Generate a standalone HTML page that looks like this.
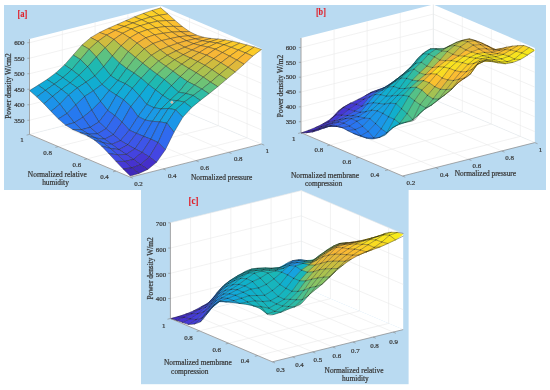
<!DOCTYPE html>
<html><head><meta charset="utf-8"><title>Power density surfaces</title><style>html,body{margin:0;padding:0;background:#fff;width:550px;height:390px;overflow:hidden;}svg{display:block;}text{stroke:#3a3a3a;stroke-width:0.22px;}text.tg{stroke:#e0202a;stroke-width:0.1px;}</style></head><body>
<svg width="550" height="390" viewBox="0 0 550 390" font-family="'Liberation Serif', 'Times New Roman', serif" fill="#383838" stroke-width="0">
<rect x="4" y="5" width="542" height="185" fill="#b9daf1"/>
<rect x="141" y="189" width="267.6" height="195.2" fill="#b9daf1"/>
<polygon points="29.50,134.40 160.70,101.20 160.70,5.80 29.50,39.00" fill="#ffffff"/>
<polygon points="160.70,101.20 261.50,144.00 261.50,48.60 160.70,5.80" fill="#ffffff"/>
<polygon points="29.50,134.40 130.30,177.20 261.50,144.00 160.70,101.20" fill="#ffffff"/>
<line x1="130.30" y1="177.20" x2="29.50" y2="134.40" stroke="#e9e9e9" stroke-width="0.6"/>
<line x1="29.50" y1="134.40" x2="29.50" y2="39.00" stroke="#e9e9e9" stroke-width="0.6"/>
<line x1="163.10" y1="168.90" x2="62.30" y2="126.10" stroke="#e9e9e9" stroke-width="0.6"/>
<line x1="62.30" y1="126.10" x2="62.30" y2="30.70" stroke="#e9e9e9" stroke-width="0.6"/>
<line x1="195.90" y1="160.60" x2="95.10" y2="117.80" stroke="#e9e9e9" stroke-width="0.6"/>
<line x1="95.10" y1="117.80" x2="95.10" y2="22.40" stroke="#e9e9e9" stroke-width="0.6"/>
<line x1="228.70" y1="152.30" x2="127.90" y2="109.50" stroke="#e9e9e9" stroke-width="0.6"/>
<line x1="127.90" y1="109.50" x2="127.90" y2="14.10" stroke="#e9e9e9" stroke-width="0.6"/>
<line x1="261.50" y1="144.00" x2="160.70" y2="101.20" stroke="#e9e9e9" stroke-width="0.6"/>
<line x1="160.70" y1="101.20" x2="160.70" y2="5.80" stroke="#e9e9e9" stroke-width="0.6"/>
<line x1="115.90" y1="171.09" x2="247.10" y2="137.89" stroke="#e9e9e9" stroke-width="0.6"/>
<line x1="247.10" y1="137.89" x2="247.10" y2="42.49" stroke="#e9e9e9" stroke-width="0.6"/>
<line x1="87.10" y1="158.86" x2="218.30" y2="125.66" stroke="#e9e9e9" stroke-width="0.6"/>
<line x1="218.30" y1="125.66" x2="218.30" y2="30.26" stroke="#e9e9e9" stroke-width="0.6"/>
<line x1="58.30" y1="146.63" x2="189.50" y2="113.43" stroke="#e9e9e9" stroke-width="0.6"/>
<line x1="189.50" y1="113.43" x2="189.50" y2="18.03" stroke="#e9e9e9" stroke-width="0.6"/>
<line x1="29.50" y1="134.40" x2="160.70" y2="101.20" stroke="#e9e9e9" stroke-width="0.6"/>
<line x1="160.70" y1="101.20" x2="160.70" y2="5.80" stroke="#e9e9e9" stroke-width="0.6"/>
<line x1="29.50" y1="120.28" x2="160.70" y2="87.08" stroke="#e9e9e9" stroke-width="0.6"/>
<line x1="160.70" y1="87.08" x2="261.50" y2="129.88" stroke="#e9e9e9" stroke-width="0.6"/>
<line x1="29.50" y1="104.77" x2="160.70" y2="71.57" stroke="#e9e9e9" stroke-width="0.6"/>
<line x1="160.70" y1="71.57" x2="261.50" y2="114.37" stroke="#e9e9e9" stroke-width="0.6"/>
<line x1="29.50" y1="89.26" x2="160.70" y2="56.06" stroke="#e9e9e9" stroke-width="0.6"/>
<line x1="160.70" y1="56.06" x2="261.50" y2="98.86" stroke="#e9e9e9" stroke-width="0.6"/>
<line x1="29.50" y1="73.75" x2="160.70" y2="40.55" stroke="#e9e9e9" stroke-width="0.6"/>
<line x1="160.70" y1="40.55" x2="261.50" y2="83.35" stroke="#e9e9e9" stroke-width="0.6"/>
<line x1="29.50" y1="58.24" x2="160.70" y2="25.04" stroke="#e9e9e9" stroke-width="0.6"/>
<line x1="160.70" y1="25.04" x2="261.50" y2="67.84" stroke="#e9e9e9" stroke-width="0.6"/>
<line x1="29.50" y1="42.72" x2="160.70" y2="9.52" stroke="#e9e9e9" stroke-width="0.6"/>
<line x1="160.70" y1="9.52" x2="261.50" y2="52.32" stroke="#e9e9e9" stroke-width="0.6"/>
<polygon points="159.15,15.24 167.90,13.97 160.70,7.85 151.95,10.38" fill="#fbcf28" stroke="#1a1a1a" stroke-width="0.45" stroke-opacity="0.8" stroke-linejoin="round"/>
<polygon points="150.41,17.07 159.15,15.24 151.95,10.38 143.21,13.43" fill="#fad027" stroke="#1a1a1a" stroke-width="0.45" stroke-opacity="0.8" stroke-linejoin="round"/>
<polygon points="166.35,20.59 175.10,20.44 167.90,13.97 159.15,15.24" fill="#fcc72b" stroke="#1a1a1a" stroke-width="0.45" stroke-opacity="0.8" stroke-linejoin="round"/>
<polygon points="141.66,19.81 150.41,17.07 143.21,13.43 134.46,16.92" fill="#fbcf28" stroke="#1a1a1a" stroke-width="0.45" stroke-opacity="0.8" stroke-linejoin="round"/>
<polygon points="157.61,21.23 166.35,20.59 159.15,15.24 150.41,17.07" fill="#fbcc29" stroke="#1a1a1a" stroke-width="0.45" stroke-opacity="0.8" stroke-linejoin="round"/>
<polygon points="173.55,26.37 182.30,26.52 175.10,20.44 166.35,20.59" fill="#fbbf30" stroke="#1a1a1a" stroke-width="0.45" stroke-opacity="0.8" stroke-linejoin="round"/>
<polygon points="132.91,22.99 141.66,19.81 134.46,16.92 125.71,20.65" fill="#fbcb29" stroke="#1a1a1a" stroke-width="0.45" stroke-opacity="0.8" stroke-linejoin="round"/>
<polygon points="148.86,23.21 157.61,21.23 150.41,17.07 141.66,19.81" fill="#fbcd29" stroke="#1a1a1a" stroke-width="0.45" stroke-opacity="0.8" stroke-linejoin="round"/>
<polygon points="164.81,26.55 173.55,26.37 166.35,20.59 157.61,21.23" fill="#fcc52c" stroke="#1a1a1a" stroke-width="0.45" stroke-opacity="0.8" stroke-linejoin="round"/>
<polygon points="124.17,26.45 132.91,22.99 125.71,20.65 116.97,24.49" fill="#fcc72b" stroke="#1a1a1a" stroke-width="0.45" stroke-opacity="0.8" stroke-linejoin="round"/>
<polygon points="180.75,31.72 189.50,31.58 182.30,26.52 173.55,26.37" fill="#f9b934" stroke="#1a1a1a" stroke-width="0.45" stroke-opacity="0.8" stroke-linejoin="round"/>
<polygon points="140.11,25.78 148.86,23.21 141.66,19.81 132.91,22.99" fill="#fbcc29" stroke="#1a1a1a" stroke-width="0.45" stroke-opacity="0.8" stroke-linejoin="round"/>
<polygon points="156.06,27.81 164.81,26.55 157.61,21.23 148.86,23.21" fill="#fcc82b" stroke="#1a1a1a" stroke-width="0.45" stroke-opacity="0.8" stroke-linejoin="round"/>
<polygon points="115.42,30.34 124.17,26.45 116.97,24.49 108.22,28.34" fill="#fbc22e" stroke="#1a1a1a" stroke-width="0.45" stroke-opacity="0.8" stroke-linejoin="round"/>
<polygon points="172.01,32.05 180.75,31.72 173.55,26.37 164.81,26.55" fill="#fabe30" stroke="#1a1a1a" stroke-width="0.45" stroke-opacity="0.8" stroke-linejoin="round"/>
<polygon points="131.37,28.96 140.11,25.78 132.91,22.99 124.17,26.45" fill="#fbc92a" stroke="#1a1a1a" stroke-width="0.45" stroke-opacity="0.8" stroke-linejoin="round"/>
<polygon points="187.95,35.84 196.70,35.20 189.50,31.58 180.75,31.72" fill="#f7b636" stroke="#1a1a1a" stroke-width="0.45" stroke-opacity="0.8" stroke-linejoin="round"/>
<polygon points="147.31,29.75 156.06,27.81 148.86,23.21 140.11,25.78" fill="#fbc92a" stroke="#1a1a1a" stroke-width="0.45" stroke-opacity="0.8" stroke-linejoin="round"/>
<polygon points="106.67,35.08 115.42,30.34 108.22,28.34 99.47,32.44" fill="#f9bb33" stroke="#1a1a1a" stroke-width="0.45" stroke-opacity="0.8" stroke-linejoin="round"/>
<polygon points="163.26,33.28 172.01,32.05 164.81,26.55 156.06,27.81" fill="#fbc12e" stroke="#1a1a1a" stroke-width="0.45" stroke-opacity="0.8" stroke-linejoin="round"/>
<polygon points="122.62,33.31 131.37,28.96 124.17,26.45 115.42,30.34" fill="#fbc22d" stroke="#1a1a1a" stroke-width="0.45" stroke-opacity="0.8" stroke-linejoin="round"/>
<polygon points="179.21,36.72 187.95,35.84 180.75,31.72 172.01,32.05" fill="#f9b934" stroke="#1a1a1a" stroke-width="0.45" stroke-opacity="0.8" stroke-linejoin="round"/>
<polygon points="138.57,32.80 147.31,29.75 140.11,25.78 131.37,28.96" fill="#fcc62b" stroke="#1a1a1a" stroke-width="0.45" stroke-opacity="0.8" stroke-linejoin="round"/>
<polygon points="195.15,38.87 203.90,37.37 196.70,35.20 187.95,35.84" fill="#f8b636" stroke="#1a1a1a" stroke-width="0.45" stroke-opacity="0.8" stroke-linejoin="round"/>
<polygon points="97.93,41.27 106.67,35.08 99.47,32.44 90.73,37.63" fill="#eeb738" stroke="#1a1a1a" stroke-width="0.45" stroke-opacity="0.8" stroke-linejoin="round"/>
<polygon points="154.51,34.83 163.26,33.28 156.06,27.81 147.31,29.75" fill="#fcc22d" stroke="#1a1a1a" stroke-width="0.45" stroke-opacity="0.8" stroke-linejoin="round"/>
<polygon points="113.87,39.48 122.62,33.31 115.42,30.34 106.67,35.08" fill="#f8b735" stroke="#1a1a1a" stroke-width="0.45" stroke-opacity="0.8" stroke-linejoin="round"/>
<polygon points="170.46,38.52 179.21,36.72 172.01,32.05 163.26,33.28" fill="#f9bb33" stroke="#1a1a1a" stroke-width="0.45" stroke-opacity="0.8" stroke-linejoin="round"/>
<polygon points="129.82,37.85 138.57,32.80 131.37,28.96 122.62,33.31" fill="#fabe30" stroke="#1a1a1a" stroke-width="0.45" stroke-opacity="0.8" stroke-linejoin="round"/>
<polygon points="186.41,40.71 195.15,38.87 187.95,35.84 179.21,36.72" fill="#f8b735" stroke="#1a1a1a" stroke-width="0.45" stroke-opacity="0.8" stroke-linejoin="round"/>
<polygon points="89.18,49.24 97.93,41.27 90.73,37.63 81.98,45.03" fill="#c0bf43" stroke="#1a1a1a" stroke-width="0.45" stroke-opacity="0.8" stroke-linejoin="round"/>
<polygon points="145.77,37.77 154.51,34.83 147.31,29.75 138.57,32.80" fill="#fbc02f" stroke="#1a1a1a" stroke-width="0.45" stroke-opacity="0.8" stroke-linejoin="round"/>
<polygon points="202.35,40.84 211.10,38.43 203.90,37.37 195.15,38.87" fill="#f9b934" stroke="#1a1a1a" stroke-width="0.45" stroke-opacity="0.8" stroke-linejoin="round"/>
<polygon points="105.13,47.76 113.87,39.48 106.67,35.08 97.93,41.27" fill="#d2bc3e" stroke="#1a1a1a" stroke-width="0.45" stroke-opacity="0.8" stroke-linejoin="round"/>
<polygon points="161.71,40.58 170.46,38.52 163.26,33.28 154.51,34.83" fill="#f9bb32" stroke="#1a1a1a" stroke-width="0.45" stroke-opacity="0.8" stroke-linejoin="round"/>
<polygon points="121.07,45.77 129.82,37.85 122.62,33.31 113.87,39.48" fill="#eab739" stroke="#1a1a1a" stroke-width="0.45" stroke-opacity="0.8" stroke-linejoin="round"/>
<polygon points="177.66,43.31 186.41,40.71 179.21,36.72 170.46,38.52" fill="#f7b636" stroke="#1a1a1a" stroke-width="0.45" stroke-opacity="0.8" stroke-linejoin="round"/>
<polygon points="80.43,59.51 89.18,49.24 81.98,45.03 73.23,55.00" fill="#81c46a" stroke="#1a1a1a" stroke-width="0.45" stroke-opacity="0.8" stroke-linejoin="round"/>
<polygon points="137.02,43.07 145.77,37.77 138.57,32.80 129.82,37.85" fill="#f9b835" stroke="#1a1a1a" stroke-width="0.45" stroke-opacity="0.8" stroke-linejoin="round"/>
<polygon points="193.61,43.76 202.35,40.84 195.15,38.87 186.41,40.71" fill="#f8b735" stroke="#1a1a1a" stroke-width="0.45" stroke-opacity="0.8" stroke-linejoin="round"/>
<polygon points="96.38,57.01 105.13,47.76 97.93,41.27 89.18,49.24" fill="#a2c254" stroke="#1a1a1a" stroke-width="0.45" stroke-opacity="0.8" stroke-linejoin="round"/>
<polygon points="152.97,43.55 161.71,40.58 154.51,34.83 145.77,37.77" fill="#f9b934" stroke="#1a1a1a" stroke-width="0.45" stroke-opacity="0.8" stroke-linejoin="round"/>
<polygon points="209.55,41.98 218.30,39.03 211.10,38.43 202.35,40.84" fill="#fabe30" stroke="#1a1a1a" stroke-width="0.45" stroke-opacity="0.8" stroke-linejoin="round"/>
<polygon points="112.33,55.98 121.07,45.77 113.87,39.48 105.13,47.76" fill="#afc14c" stroke="#1a1a1a" stroke-width="0.45" stroke-opacity="0.8" stroke-linejoin="round"/>
<polygon points="168.91,46.31 177.66,43.31 170.46,38.52 161.71,40.58" fill="#f4b637" stroke="#1a1a1a" stroke-width="0.45" stroke-opacity="0.8" stroke-linejoin="round"/>
<polygon points="71.69,69.70 80.43,59.51 73.23,55.00 64.49,64.92" fill="#2dbca5" stroke="#1a1a1a" stroke-width="0.45" stroke-opacity="0.8" stroke-linejoin="round"/>
<polygon points="128.27,51.59 137.02,43.07 129.82,37.85 121.07,45.77" fill="#d3bb3d" stroke="#1a1a1a" stroke-width="0.45" stroke-opacity="0.8" stroke-linejoin="round"/>
<polygon points="184.86,47.22 193.61,43.76 186.41,40.71 177.66,43.31" fill="#f4b637" stroke="#1a1a1a" stroke-width="0.45" stroke-opacity="0.8" stroke-linejoin="round"/>
<polygon points="87.63,66.65 96.38,57.01 89.18,49.24 80.43,59.51" fill="#53c189" stroke="#1a1a1a" stroke-width="0.45" stroke-opacity="0.8" stroke-linejoin="round"/>
<polygon points="144.22,48.89 152.97,43.55 145.77,37.77 137.02,43.07" fill="#efb738" stroke="#1a1a1a" stroke-width="0.45" stroke-opacity="0.8" stroke-linejoin="round"/>
<polygon points="200.81,45.59 209.55,41.98 202.35,40.84 193.61,43.76" fill="#f9ba33" stroke="#1a1a1a" stroke-width="0.45" stroke-opacity="0.8" stroke-linejoin="round"/>
<polygon points="103.58,66.69 112.33,55.98 105.13,47.76 96.38,57.01" fill="#5cc282" stroke="#1a1a1a" stroke-width="0.45" stroke-opacity="0.8" stroke-linejoin="round"/>
<polygon points="160.17,49.81 168.91,46.31 161.71,40.58 152.97,43.55" fill="#efb738" stroke="#1a1a1a" stroke-width="0.45" stroke-opacity="0.8" stroke-linejoin="round"/>
<polygon points="62.94,77.65 71.69,69.70 64.49,64.92 55.74,72.99" fill="#16b5be" stroke="#1a1a1a" stroke-width="0.45" stroke-opacity="0.8" stroke-linejoin="round"/>
<polygon points="216.75,43.03 225.50,39.88 218.30,39.03 209.55,41.98" fill="#fcc42c" stroke="#1a1a1a" stroke-width="0.45" stroke-opacity="0.8" stroke-linejoin="round"/>
<polygon points="119.53,63.09 128.27,51.59 121.07,45.77 112.33,55.98" fill="#8dc362" stroke="#1a1a1a" stroke-width="0.45" stroke-opacity="0.8" stroke-linejoin="round"/>
<polygon points="176.11,50.95 184.86,47.22 177.66,43.31 168.91,46.31" fill="#edb738" stroke="#1a1a1a" stroke-width="0.45" stroke-opacity="0.8" stroke-linejoin="round"/>
<polygon points="78.89,75.28 87.63,66.65 80.43,59.51 71.69,69.70" fill="#1eb8b2" stroke="#1a1a1a" stroke-width="0.45" stroke-opacity="0.8" stroke-linejoin="round"/>
<polygon points="135.47,57.33 144.22,48.89 137.02,43.07 128.27,51.59" fill="#bebf44" stroke="#1a1a1a" stroke-width="0.45" stroke-opacity="0.8" stroke-linejoin="round"/>
<polygon points="192.06,50.06 200.81,45.59 193.61,43.76 184.86,47.22" fill="#f5b637" stroke="#1a1a1a" stroke-width="0.45" stroke-opacity="0.8" stroke-linejoin="round"/>
<polygon points="94.83,75.98 103.58,66.69 96.38,57.01 87.63,66.65" fill="#1fb9b1" stroke="#1a1a1a" stroke-width="0.45" stroke-opacity="0.8" stroke-linejoin="round"/>
<polygon points="151.42,55.32 160.17,49.81 152.97,43.55 144.22,48.89" fill="#d4bb3d" stroke="#1a1a1a" stroke-width="0.45" stroke-opacity="0.8" stroke-linejoin="round"/>
<polygon points="54.19,84.19 62.94,77.65 55.74,72.99 46.99,79.49" fill="#11b0cc" stroke="#1a1a1a" stroke-width="0.45" stroke-opacity="0.8" stroke-linejoin="round"/>
<polygon points="208.01,47.10 216.75,43.03 209.55,41.98 200.81,45.59" fill="#fabf30" stroke="#1a1a1a" stroke-width="0.45" stroke-opacity="0.8" stroke-linejoin="round"/>
<polygon points="110.78,75.72 119.53,63.09 112.33,55.98 103.58,66.69" fill="#26baac" stroke="#1a1a1a" stroke-width="0.45" stroke-opacity="0.8" stroke-linejoin="round"/>
<polygon points="167.37,55.23 176.11,50.95 168.91,46.31 160.17,49.81" fill="#ddb93b" stroke="#1a1a1a" stroke-width="0.45" stroke-opacity="0.8" stroke-linejoin="round"/>
<polygon points="70.14,82.85 78.89,75.28 71.69,69.70 62.94,77.65" fill="#12b3c5" stroke="#1a1a1a" stroke-width="0.45" stroke-opacity="0.8" stroke-linejoin="round"/>
<polygon points="223.95,44.75 232.70,41.28 225.50,39.88 216.75,43.03" fill="#fbc82a" stroke="#1a1a1a" stroke-width="0.45" stroke-opacity="0.8" stroke-linejoin="round"/>
<polygon points="126.73,68.51 135.47,57.33 128.27,51.59 119.53,63.09" fill="#74c373" stroke="#1a1a1a" stroke-width="0.45" stroke-opacity="0.8" stroke-linejoin="round"/>
<polygon points="183.31,54.73 192.06,50.06 184.86,47.22 176.11,50.95" fill="#e8b839" stroke="#1a1a1a" stroke-width="0.45" stroke-opacity="0.8" stroke-linejoin="round"/>
<polygon points="86.09,82.17 94.83,75.98 87.63,66.65 78.89,75.28" fill="#15b4c0" stroke="#1a1a1a" stroke-width="0.45" stroke-opacity="0.8" stroke-linejoin="round"/>
<polygon points="142.67,63.19 151.42,55.32 144.22,48.89 135.47,57.33" fill="#adc14d" stroke="#1a1a1a" stroke-width="0.45" stroke-opacity="0.8" stroke-linejoin="round"/>
<polygon points="45.45,90.42 54.19,84.19 46.99,79.49 38.25,85.11" fill="#12abd7" stroke="#1a1a1a" stroke-width="0.45" stroke-opacity="0.8" stroke-linejoin="round"/>
<polygon points="199.26,52.53 208.01,47.10 200.81,45.59 192.06,50.06" fill="#f7b636" stroke="#1a1a1a" stroke-width="0.45" stroke-opacity="0.8" stroke-linejoin="round"/>
<polygon points="102.03,84.32 110.78,75.72 103.58,66.69 94.83,75.98" fill="#12b3c5" stroke="#1a1a1a" stroke-width="0.45" stroke-opacity="0.8" stroke-linejoin="round"/>
<polygon points="158.62,61.06 167.37,55.23 160.17,49.81 151.42,55.32" fill="#bfbf44" stroke="#1a1a1a" stroke-width="0.45" stroke-opacity="0.8" stroke-linejoin="round"/>
<polygon points="61.39,89.41 70.14,82.85 62.94,77.65 54.19,84.19" fill="#11add2" stroke="#1a1a1a" stroke-width="0.45" stroke-opacity="0.8" stroke-linejoin="round"/>
<polygon points="215.21,49.16 223.95,44.75 216.75,43.03 208.01,47.10" fill="#fbc12e" stroke="#1a1a1a" stroke-width="0.45" stroke-opacity="0.8" stroke-linejoin="round"/>
<polygon points="117.98,80.51 126.73,68.51 119.53,63.09 110.78,75.72" fill="#1cb8b4" stroke="#1a1a1a" stroke-width="0.45" stroke-opacity="0.8" stroke-linejoin="round"/>
<polygon points="174.57,59.79 183.31,54.73 176.11,50.95 167.37,55.23" fill="#cfbc3e" stroke="#1a1a1a" stroke-width="0.45" stroke-opacity="0.8" stroke-linejoin="round"/>
<polygon points="77.34,87.88 86.09,82.17 78.89,75.28 70.14,82.85" fill="#10b0cb" stroke="#1a1a1a" stroke-width="0.45" stroke-opacity="0.8" stroke-linejoin="round"/>
<polygon points="231.15,47.35 239.90,43.09 232.70,41.28 223.95,44.75" fill="#fbca2a" stroke="#1a1a1a" stroke-width="0.45" stroke-opacity="0.8" stroke-linejoin="round"/>
<polygon points="133.93,72.99 142.67,63.19 135.47,57.33 126.73,68.51" fill="#64c27d" stroke="#1a1a1a" stroke-width="0.45" stroke-opacity="0.8" stroke-linejoin="round"/>
<polygon points="36.70,96.83 45.45,90.42 38.25,85.11 29.50,90.61" fill="#15a3df" stroke="#1a1a1a" stroke-width="0.45" stroke-opacity="0.8" stroke-linejoin="round"/>
<polygon points="190.51,58.14 199.26,52.53 192.06,50.06 183.31,54.73" fill="#e6b83a" stroke="#1a1a1a" stroke-width="0.45" stroke-opacity="0.8" stroke-linejoin="round"/>
<polygon points="93.29,90.83 102.03,84.32 94.83,75.98 86.09,82.17" fill="#11add1" stroke="#1a1a1a" stroke-width="0.45" stroke-opacity="0.8" stroke-linejoin="round"/>
<polygon points="149.87,68.86 158.62,61.06 151.42,55.32 142.67,63.19" fill="#99c35a" stroke="#1a1a1a" stroke-width="0.45" stroke-opacity="0.8" stroke-linejoin="round"/>
<polygon points="52.65,96.39 61.39,89.41 54.19,84.19 45.45,90.42" fill="#14a5dd" stroke="#1a1a1a" stroke-width="0.45" stroke-opacity="0.8" stroke-linejoin="round"/>
<polygon points="206.46,55.18 215.21,49.16 208.01,47.10 199.26,52.53" fill="#f8b736" stroke="#1a1a1a" stroke-width="0.45" stroke-opacity="0.8" stroke-linejoin="round"/>
<polygon points="109.23,90.51 117.98,80.51 110.78,75.72 102.03,84.32" fill="#11afce" stroke="#1a1a1a" stroke-width="0.45" stroke-opacity="0.8" stroke-linejoin="round"/>
<polygon points="165.82,66.11 174.57,59.79 167.37,55.23 158.62,61.06" fill="#b3c14a" stroke="#1a1a1a" stroke-width="0.45" stroke-opacity="0.8" stroke-linejoin="round"/>
<polygon points="68.59,94.99 77.34,87.88 70.14,82.85 61.39,89.41" fill="#12aad8" stroke="#1a1a1a" stroke-width="0.45" stroke-opacity="0.8" stroke-linejoin="round"/>
<polygon points="222.41,52.54 231.15,47.35 223.95,44.75 215.21,49.16" fill="#fbc02f" stroke="#1a1a1a" stroke-width="0.45" stroke-opacity="0.8" stroke-linejoin="round"/>
<polygon points="125.18,83.68 133.93,72.99 126.73,68.51 117.98,80.51" fill="#1cb8b5" stroke="#1a1a1a" stroke-width="0.45" stroke-opacity="0.8" stroke-linejoin="round"/>
<polygon points="181.77,64.18 190.51,58.14 183.31,54.73 174.57,59.79" fill="#c4be41" stroke="#1a1a1a" stroke-width="0.45" stroke-opacity="0.8" stroke-linejoin="round"/>
<polygon points="84.54,96.49 93.29,90.83 86.09,82.17 77.34,87.88" fill="#13a8da" stroke="#1a1a1a" stroke-width="0.45" stroke-opacity="0.8" stroke-linejoin="round"/>
<polygon points="238.35,50.07 247.10,44.96 239.90,43.09 231.15,47.35" fill="#fbcb29" stroke="#1a1a1a" stroke-width="0.45" stroke-opacity="0.8" stroke-linejoin="round"/>
<polygon points="141.13,78.19 149.87,68.86 142.67,63.19 133.93,72.99" fill="#4cc08e" stroke="#1a1a1a" stroke-width="0.45" stroke-opacity="0.8" stroke-linejoin="round"/>
<polygon points="43.90,103.84 52.65,96.39 45.45,90.42 36.70,96.83" fill="#199ce5" stroke="#1a1a1a" stroke-width="0.45" stroke-opacity="0.8" stroke-linejoin="round"/>
<polygon points="197.71,61.53 206.46,55.18 199.26,52.53 190.51,58.14" fill="#e4b83a" stroke="#1a1a1a" stroke-width="0.45" stroke-opacity="0.8" stroke-linejoin="round"/>
<polygon points="100.49,101.39 109.23,90.51 102.03,84.32 93.29,90.83" fill="#16a1e1" stroke="#1a1a1a" stroke-width="0.45" stroke-opacity="0.8" stroke-linejoin="round"/>
<polygon points="157.07,74.29 165.82,66.11 158.62,61.06 149.87,68.86" fill="#81c46a" stroke="#1a1a1a" stroke-width="0.45" stroke-opacity="0.8" stroke-linejoin="round"/>
<polygon points="59.85,104.09 68.59,94.99 61.39,89.41 52.65,96.39" fill="#189ee4" stroke="#1a1a1a" stroke-width="0.45" stroke-opacity="0.8" stroke-linejoin="round"/>
<polygon points="213.66,58.70 222.41,52.54 215.21,49.16 206.46,55.18" fill="#f7b636" stroke="#1a1a1a" stroke-width="0.45" stroke-opacity="0.8" stroke-linejoin="round"/>
<polygon points="116.43,95.15 125.18,83.68 117.98,80.51 109.23,90.51" fill="#11add2" stroke="#1a1a1a" stroke-width="0.45" stroke-opacity="0.8" stroke-linejoin="round"/>
<polygon points="173.02,71.24 181.77,64.18 174.57,59.79 165.82,66.11" fill="#a6c251" stroke="#1a1a1a" stroke-width="0.45" stroke-opacity="0.8" stroke-linejoin="round"/>
<polygon points="75.79,104.94 84.54,96.49 77.34,87.88 68.59,94.99" fill="#189de4" stroke="#1a1a1a" stroke-width="0.45" stroke-opacity="0.8" stroke-linejoin="round"/>
<polygon points="229.61,56.20 238.35,50.07 231.15,47.35 222.41,52.54" fill="#fabf30" stroke="#1a1a1a" stroke-width="0.45" stroke-opacity="0.8" stroke-linejoin="round"/>
<polygon points="132.38,88.26 141.13,78.19 133.93,72.99 125.18,83.68" fill="#18b6ba" stroke="#1a1a1a" stroke-width="0.45" stroke-opacity="0.8" stroke-linejoin="round"/>
<polygon points="188.97,68.51 197.71,61.53 190.51,58.14 181.77,64.18" fill="#bcbf45" stroke="#1a1a1a" stroke-width="0.45" stroke-opacity="0.8" stroke-linejoin="round"/>
<polygon points="91.74,110.15 100.49,101.39 93.29,90.83 84.54,96.49" fill="#1c94e9" stroke="#1a1a1a" stroke-width="0.45" stroke-opacity="0.8" stroke-linejoin="round"/>
<polygon points="245.55,52.95 254.30,46.98 247.10,44.96 238.35,50.07" fill="#fbcb29" stroke="#1a1a1a" stroke-width="0.45" stroke-opacity="0.8" stroke-linejoin="round"/>
<polygon points="148.33,84.51 157.07,74.29 149.87,68.86 141.13,78.19" fill="#2dbca6" stroke="#1a1a1a" stroke-width="0.45" stroke-opacity="0.8" stroke-linejoin="round"/>
<polygon points="51.10,111.38 59.85,104.09 52.65,96.39 43.90,103.84" fill="#1c92ea" stroke="#1a1a1a" stroke-width="0.45" stroke-opacity="0.8" stroke-linejoin="round"/>
<polygon points="204.91,65.34 213.66,58.70 206.46,55.18 197.71,61.53" fill="#dcba3c" stroke="#1a1a1a" stroke-width="0.45" stroke-opacity="0.8" stroke-linejoin="round"/>
<polygon points="107.69,110.35 116.43,95.15 109.23,90.51 100.49,101.39" fill="#1b96e8" stroke="#1a1a1a" stroke-width="0.45" stroke-opacity="0.8" stroke-linejoin="round"/>
<polygon points="164.27,79.53 173.02,71.24 165.82,66.11 157.07,74.29" fill="#68c37a" stroke="#1a1a1a" stroke-width="0.45" stroke-opacity="0.8" stroke-linejoin="round"/>
<polygon points="67.05,113.50 75.79,104.94 68.59,94.99 59.85,104.09" fill="#1e8fec" stroke="#1a1a1a" stroke-width="0.45" stroke-opacity="0.8" stroke-linejoin="round"/>
<polygon points="220.86,62.75 229.61,56.20 222.41,52.54 213.66,58.70" fill="#f3b637" stroke="#1a1a1a" stroke-width="0.45" stroke-opacity="0.8" stroke-linejoin="round"/>
<polygon points="123.63,99.78 132.38,88.26 125.18,83.68 116.43,95.15" fill="#12abd7" stroke="#1a1a1a" stroke-width="0.45" stroke-opacity="0.8" stroke-linejoin="round"/>
<polygon points="180.22,76.64 188.97,68.51 181.77,64.18 173.02,71.24" fill="#91c35f" stroke="#1a1a1a" stroke-width="0.45" stroke-opacity="0.8" stroke-linejoin="round"/>
<polygon points="82.99,117.26 91.74,110.15 84.54,96.49 75.79,104.94" fill="#2284ee" stroke="#1a1a1a" stroke-width="0.45" stroke-opacity="0.8" stroke-linejoin="round"/>
<polygon points="236.81,60.04 245.55,52.95 238.35,50.07 229.61,56.20" fill="#fabd31" stroke="#1a1a1a" stroke-width="0.45" stroke-opacity="0.8" stroke-linejoin="round"/>
<polygon points="139.58,95.83 148.33,84.51 141.13,78.19 132.38,88.26" fill="#10b1ca" stroke="#1a1a1a" stroke-width="0.45" stroke-opacity="0.8" stroke-linejoin="round"/>
<polygon points="196.17,72.75 204.91,65.34 197.71,61.53 188.97,68.51" fill="#b5c049" stroke="#1a1a1a" stroke-width="0.45" stroke-opacity="0.8" stroke-linejoin="round"/>
<polygon points="98.94,121.96 107.69,110.35 100.49,101.39 91.74,110.15" fill="#2778f0" stroke="#1a1a1a" stroke-width="0.45" stroke-opacity="0.8" stroke-linejoin="round"/>
<polygon points="252.75,56.12 261.50,49.46 254.30,46.98 245.55,52.95" fill="#fbcb29" stroke="#1a1a1a" stroke-width="0.45" stroke-opacity="0.8" stroke-linejoin="round"/>
<polygon points="155.53,89.92 164.27,79.53 157.07,74.29 148.33,84.51" fill="#1fb9b1" stroke="#1a1a1a" stroke-width="0.45" stroke-opacity="0.8" stroke-linejoin="round"/>
<polygon points="58.30,118.87 67.05,113.50 59.85,104.09 51.10,111.38" fill="#2284ee" stroke="#1a1a1a" stroke-width="0.45" stroke-opacity="0.8" stroke-linejoin="round"/>
<polygon points="212.11,69.70 220.86,62.75 213.66,58.70 204.91,65.34" fill="#d0bc3e" stroke="#1a1a1a" stroke-width="0.45" stroke-opacity="0.8" stroke-linejoin="round"/>
<polygon points="114.89,115.70 123.63,99.78 116.43,95.15 107.69,110.35" fill="#1d8feb" stroke="#1a1a1a" stroke-width="0.45" stroke-opacity="0.8" stroke-linejoin="round"/>
<polygon points="171.47,85.65 180.22,76.64 173.02,71.24 164.27,79.53" fill="#46bf92" stroke="#1a1a1a" stroke-width="0.45" stroke-opacity="0.8" stroke-linejoin="round"/>
<polygon points="74.25,122.71 82.99,117.26 75.79,104.94 67.05,113.50" fill="#2679f0" stroke="#1a1a1a" stroke-width="0.45" stroke-opacity="0.8" stroke-linejoin="round"/>
<polygon points="228.06,67.29 236.81,60.04 229.61,56.20 220.86,62.75" fill="#ebb739" stroke="#1a1a1a" stroke-width="0.45" stroke-opacity="0.8" stroke-linejoin="round"/>
<polygon points="130.83,106.53 139.58,95.83 132.38,88.26 123.63,99.78" fill="#15a4de" stroke="#1a1a1a" stroke-width="0.45" stroke-opacity="0.8" stroke-linejoin="round"/>
<polygon points="187.42,81.46 196.17,72.75 188.97,68.51 180.22,76.64" fill="#7ec46c" stroke="#1a1a1a" stroke-width="0.45" stroke-opacity="0.8" stroke-linejoin="round"/>
<polygon points="90.19,127.39 98.94,121.96 91.74,110.15 82.99,117.26" fill="#2c70ef" stroke="#1a1a1a" stroke-width="0.45" stroke-opacity="0.8" stroke-linejoin="round"/>
<polygon points="244.01,64.21 252.75,56.12 245.55,52.95 236.81,60.04" fill="#f9b934" stroke="#1a1a1a" stroke-width="0.45" stroke-opacity="0.8" stroke-linejoin="round"/>
<polygon points="146.78,104.37 155.53,89.92 148.33,84.51 139.58,95.83" fill="#12aad8" stroke="#1a1a1a" stroke-width="0.45" stroke-opacity="0.8" stroke-linejoin="round"/>
<polygon points="203.37,77.20 212.11,69.70 204.91,65.34 196.17,72.75" fill="#acc14e" stroke="#1a1a1a" stroke-width="0.45" stroke-opacity="0.8" stroke-linejoin="round"/>
<polygon points="106.14,128.61 114.89,115.70 107.69,110.35 98.94,121.96" fill="#2d6fef" stroke="#1a1a1a" stroke-width="0.45" stroke-opacity="0.8" stroke-linejoin="round"/>
<polygon points="162.73,95.42 171.47,85.65 164.27,79.53 155.53,89.92" fill="#18b6bb" stroke="#1a1a1a" stroke-width="0.45" stroke-opacity="0.8" stroke-linejoin="round"/>
<polygon points="65.50,125.09 74.25,122.71 67.05,113.50 58.30,118.87" fill="#2779f0" stroke="#1a1a1a" stroke-width="0.45" stroke-opacity="0.8" stroke-linejoin="round"/>
<polygon points="219.31,74.67 228.06,67.29 220.86,62.75 212.11,69.70" fill="#c1bf43" stroke="#1a1a1a" stroke-width="0.45" stroke-opacity="0.8" stroke-linejoin="round"/>
<polygon points="122.09,122.15 130.83,106.53 123.63,99.78 114.89,115.70" fill="#2284ee" stroke="#1a1a1a" stroke-width="0.45" stroke-opacity="0.8" stroke-linejoin="round"/>
<polygon points="178.67,92.28 187.42,81.46 180.22,76.64 171.47,85.65" fill="#28bbaa" stroke="#1a1a1a" stroke-width="0.45" stroke-opacity="0.8" stroke-linejoin="round"/>
<polygon points="81.45,129.69 90.19,127.39 82.99,117.26 74.25,122.71" fill="#2c70ef" stroke="#1a1a1a" stroke-width="0.45" stroke-opacity="0.8" stroke-linejoin="round"/>
<polygon points="235.26,72.03 244.01,64.21 236.81,60.04 228.06,67.29" fill="#dfb93b" stroke="#1a1a1a" stroke-width="0.45" stroke-opacity="0.8" stroke-linejoin="round"/>
<polygon points="138.03,116.54 146.78,104.37 139.58,95.83 130.83,106.53" fill="#1b97e7" stroke="#1a1a1a" stroke-width="0.45" stroke-opacity="0.8" stroke-linejoin="round"/>
<polygon points="194.62,85.04 203.37,77.20 196.17,72.75 187.42,81.46" fill="#79c36f" stroke="#1a1a1a" stroke-width="0.45" stroke-opacity="0.8" stroke-linejoin="round"/>
<polygon points="97.39,133.92 106.14,128.61 98.94,121.96 90.19,127.39" fill="#3268ee" stroke="#1a1a1a" stroke-width="0.45" stroke-opacity="0.8" stroke-linejoin="round"/>
<polygon points="153.98,107.75 162.73,95.42 155.53,89.92 146.78,104.37" fill="#12a9d9" stroke="#1a1a1a" stroke-width="0.45" stroke-opacity="0.8" stroke-linejoin="round"/>
<polygon points="210.57,82.16 219.31,74.67 212.11,69.70 203.37,77.20" fill="#9fc256" stroke="#1a1a1a" stroke-width="0.45" stroke-opacity="0.8" stroke-linejoin="round"/>
<polygon points="113.34,134.74 122.09,122.15 114.89,115.70 106.14,128.61" fill="#3268ee" stroke="#1a1a1a" stroke-width="0.45" stroke-opacity="0.8" stroke-linejoin="round"/>
<polygon points="169.93,100.10 178.67,92.28 171.47,85.65 162.73,95.42" fill="#15b4c0" stroke="#1a1a1a" stroke-width="0.45" stroke-opacity="0.8" stroke-linejoin="round"/>
<polygon points="72.70,129.51 81.45,129.69 74.25,122.71 65.50,125.09" fill="#2976f0" stroke="#1a1a1a" stroke-width="0.45" stroke-opacity="0.8" stroke-linejoin="round"/>
<polygon points="226.51,79.28 235.26,72.03 228.06,67.29 219.31,74.67" fill="#b7c048" stroke="#1a1a1a" stroke-width="0.45" stroke-opacity="0.8" stroke-linejoin="round"/>
<polygon points="129.29,130.21 138.03,116.54 130.83,106.53 122.09,122.15" fill="#2975f0" stroke="#1a1a1a" stroke-width="0.45" stroke-opacity="0.8" stroke-linejoin="round"/>
<polygon points="185.87,93.44 194.62,85.04 187.42,81.46 178.67,92.28" fill="#34bda0" stroke="#1a1a1a" stroke-width="0.45" stroke-opacity="0.8" stroke-linejoin="round"/>
<polygon points="88.65,134.19 97.39,133.92 90.19,127.39 81.45,129.69" fill="#2f6cef" stroke="#1a1a1a" stroke-width="0.45" stroke-opacity="0.8" stroke-linejoin="round"/>
<polygon points="145.23,120.06 153.98,107.75 146.78,104.37 138.03,116.54" fill="#1b96e8" stroke="#1a1a1a" stroke-width="0.45" stroke-opacity="0.8" stroke-linejoin="round"/>
<polygon points="201.82,89.06 210.57,82.16 203.37,77.20 194.62,85.04" fill="#6ec376" stroke="#1a1a1a" stroke-width="0.45" stroke-opacity="0.8" stroke-linejoin="round"/>
<polygon points="104.59,139.19 113.34,134.74 106.14,128.61 97.39,133.92" fill="#3661ed" stroke="#1a1a1a" stroke-width="0.45" stroke-opacity="0.8" stroke-linejoin="round"/>
<polygon points="161.18,108.90 169.93,100.10 162.73,95.42 153.98,107.75" fill="#12acd4" stroke="#1a1a1a" stroke-width="0.45" stroke-opacity="0.8" stroke-linejoin="round"/>
<polygon points="217.77,86.70 226.51,79.28 219.31,74.67 210.57,82.16" fill="#90c360" stroke="#1a1a1a" stroke-width="0.45" stroke-opacity="0.8" stroke-linejoin="round"/>
<polygon points="120.54,140.57 129.29,130.21 122.09,122.15 113.34,134.74" fill="#375fec" stroke="#1a1a1a" stroke-width="0.45" stroke-opacity="0.8" stroke-linejoin="round"/>
<polygon points="177.13,100.63 185.87,93.44 178.67,92.28 169.93,100.10" fill="#1ab7b8" stroke="#1a1a1a" stroke-width="0.45" stroke-opacity="0.8" stroke-linejoin="round"/>
<polygon points="79.90,132.55 88.65,134.19 81.45,129.69 72.70,129.51" fill="#2976f0" stroke="#1a1a1a" stroke-width="0.45" stroke-opacity="0.8" stroke-linejoin="round"/>
<polygon points="136.49,133.35 145.23,120.06 138.03,116.54 129.29,130.21" fill="#2975f0" stroke="#1a1a1a" stroke-width="0.45" stroke-opacity="0.8" stroke-linejoin="round"/>
<polygon points="193.07,95.49 201.82,89.06 194.62,85.04 185.87,93.44" fill="#3fbe98" stroke="#1a1a1a" stroke-width="0.45" stroke-opacity="0.8" stroke-linejoin="round"/>
<polygon points="95.85,138.11 104.59,139.19 97.39,133.92 88.65,134.19" fill="#306aef" stroke="#1a1a1a" stroke-width="0.45" stroke-opacity="0.8" stroke-linejoin="round"/>
<polygon points="152.43,121.37 161.18,108.90 153.98,107.75 145.23,120.06" fill="#1a9ae6" stroke="#1a1a1a" stroke-width="0.45" stroke-opacity="0.8" stroke-linejoin="round"/>
<polygon points="209.02,93.74 217.77,86.70 210.57,82.16 201.82,89.06" fill="#5cc282" stroke="#1a1a1a" stroke-width="0.45" stroke-opacity="0.8" stroke-linejoin="round"/>
<polygon points="111.79,144.35 120.54,140.57 113.34,134.74 104.59,139.19" fill="#3a59ea" stroke="#1a1a1a" stroke-width="0.45" stroke-opacity="0.8" stroke-linejoin="round"/>
<polygon points="168.38,108.45 177.13,100.63 169.93,100.10 161.18,108.90" fill="#10b1cb" stroke="#1a1a1a" stroke-width="0.45" stroke-opacity="0.8" stroke-linejoin="round"/>
<polygon points="127.74,144.90 136.49,133.35 129.29,130.21 120.54,140.57" fill="#3a5aea" stroke="#1a1a1a" stroke-width="0.45" stroke-opacity="0.8" stroke-linejoin="round"/>
<polygon points="184.33,102.07 193.07,95.49 185.87,93.44 177.13,100.63" fill="#1fb9b1" stroke="#1a1a1a" stroke-width="0.45" stroke-opacity="0.8" stroke-linejoin="round"/>
<polygon points="87.10,135.66 95.85,138.11 88.65,134.19 79.90,132.55" fill="#2976f0" stroke="#1a1a1a" stroke-width="0.45" stroke-opacity="0.8" stroke-linejoin="round"/>
<polygon points="143.69,136.40 152.43,121.37 145.23,120.06 136.49,133.35" fill="#2975f0" stroke="#1a1a1a" stroke-width="0.45" stroke-opacity="0.8" stroke-linejoin="round"/>
<polygon points="200.27,100.40 209.02,93.74 201.82,89.06 193.07,95.49" fill="#2fbca5" stroke="#1a1a1a" stroke-width="0.45" stroke-opacity="0.8" stroke-linejoin="round"/>
<polygon points="103.05,142.76 111.79,144.35 104.59,139.19 95.85,138.11" fill="#3366ee" stroke="#1a1a1a" stroke-width="0.45" stroke-opacity="0.8" stroke-linejoin="round"/>
<polygon points="159.63,121.84 168.38,108.45 161.18,108.90 152.43,121.37" fill="#179fe3" stroke="#1a1a1a" stroke-width="0.45" stroke-opacity="0.8" stroke-linejoin="round"/>
<polygon points="118.99,149.63 127.74,144.90 120.54,140.57 111.79,144.35" fill="#3f50e7" stroke="#1a1a1a" stroke-width="0.45" stroke-opacity="0.8" stroke-linejoin="round"/>
<polygon points="175.58,109.81 184.33,102.07 177.13,100.63 168.38,108.45" fill="#12b3c5" stroke="#1a1a1a" stroke-width="0.45" stroke-opacity="0.8" stroke-linejoin="round"/>
<polygon points="134.94,148.81 143.69,136.40 136.49,133.35 127.74,144.90" fill="#3c57e9" stroke="#1a1a1a" stroke-width="0.45" stroke-opacity="0.8" stroke-linejoin="round"/>
<polygon points="191.53,107.67 200.27,100.40 193.07,95.49 184.33,102.07" fill="#18b6bb" stroke="#1a1a1a" stroke-width="0.45" stroke-opacity="0.8" stroke-linejoin="round"/>
<polygon points="94.30,139.97 103.05,142.76 95.85,138.11 87.10,135.66" fill="#2b73ef" stroke="#1a1a1a" stroke-width="0.45" stroke-opacity="0.8" stroke-linejoin="round"/>
<polygon points="150.89,139.20 159.63,121.84 152.43,121.37 143.69,136.40" fill="#2975f0" stroke="#1a1a1a" stroke-width="0.45" stroke-opacity="0.8" stroke-linejoin="round"/>
<polygon points="110.25,148.46 118.99,149.63 111.79,144.35 103.05,142.76" fill="#385dec" stroke="#1a1a1a" stroke-width="0.45" stroke-opacity="0.8" stroke-linejoin="round"/>
<polygon points="166.83,123.17 175.58,109.81 168.38,108.45 159.63,121.84" fill="#16a2e0" stroke="#1a1a1a" stroke-width="0.45" stroke-opacity="0.8" stroke-linejoin="round"/>
<polygon points="126.19,154.44 134.94,148.81 127.74,144.90 118.99,149.63" fill="#4349e4" stroke="#1a1a1a" stroke-width="0.45" stroke-opacity="0.8" stroke-linejoin="round"/>
<polygon points="182.78,117.31 191.53,107.67 184.33,102.07 175.58,109.81" fill="#11add2" stroke="#1a1a1a" stroke-width="0.45" stroke-opacity="0.8" stroke-linejoin="round"/>
<polygon points="142.14,152.35 150.89,139.20 143.69,136.40 134.94,148.81" fill="#3d55e9" stroke="#1a1a1a" stroke-width="0.45" stroke-opacity="0.8" stroke-linejoin="round"/>
<polygon points="101.50,146.02 110.25,148.46 103.05,142.76 94.30,139.97" fill="#2f6bef" stroke="#1a1a1a" stroke-width="0.45" stroke-opacity="0.8" stroke-linejoin="round"/>
<polygon points="158.09,142.48 166.83,123.17 159.63,121.84 150.89,139.20" fill="#2975f0" stroke="#1a1a1a" stroke-width="0.45" stroke-opacity="0.8" stroke-linejoin="round"/>
<polygon points="117.45,154.82 126.19,154.44 118.99,149.63 110.25,148.46" fill="#3f50e7" stroke="#1a1a1a" stroke-width="0.45" stroke-opacity="0.8" stroke-linejoin="round"/>
<polygon points="174.03,132.25 182.78,117.31 175.58,109.81 166.83,123.17" fill="#1b96e8" stroke="#1a1a1a" stroke-width="0.45" stroke-opacity="0.8" stroke-linejoin="round"/>
<polygon points="133.39,159.41 142.14,152.35 134.94,148.81 126.19,154.44" fill="#4443df" stroke="#1a1a1a" stroke-width="0.45" stroke-opacity="0.8" stroke-linejoin="round"/>
<polygon points="149.34,156.94 158.09,142.48 150.89,139.20 142.14,152.35" fill="#404fe6" stroke="#1a1a1a" stroke-width="0.45" stroke-opacity="0.8" stroke-linejoin="round"/>
<polygon points="108.70,153.50 117.45,154.82 110.25,148.46 101.50,146.02" fill="#375eec" stroke="#1a1a1a" stroke-width="0.45" stroke-opacity="0.8" stroke-linejoin="round"/>
<polygon points="165.29,149.92 174.03,132.25 166.83,123.17 158.09,142.48" fill="#306aef" stroke="#1a1a1a" stroke-width="0.45" stroke-opacity="0.8" stroke-linejoin="round"/>
<polygon points="124.65,161.45 133.39,159.41 126.19,154.44 117.45,154.82" fill="#4443df" stroke="#1a1a1a" stroke-width="0.45" stroke-opacity="0.8" stroke-linejoin="round"/>
<polygon points="140.59,164.69 149.34,156.94 142.14,152.35 133.39,159.41" fill="#4538d5" stroke="#1a1a1a" stroke-width="0.45" stroke-opacity="0.8" stroke-linejoin="round"/>
<polygon points="156.54,162.32 165.29,149.92 158.09,142.48 149.34,156.94" fill="#4446e2" stroke="#1a1a1a" stroke-width="0.45" stroke-opacity="0.8" stroke-linejoin="round"/>
<polygon points="115.90,161.36 124.65,161.45 117.45,154.82 108.70,153.50" fill="#424be5" stroke="#1a1a1a" stroke-width="0.45" stroke-opacity="0.8" stroke-linejoin="round"/>
<polygon points="131.85,167.81 140.59,164.69 133.39,159.41 124.65,161.45" fill="#4632cf" stroke="#1a1a1a" stroke-width="0.45" stroke-opacity="0.8" stroke-linejoin="round"/>
<polygon points="147.79,169.43 156.54,162.32 149.34,156.94 140.59,164.69" fill="#452fca" stroke="#1a1a1a" stroke-width="0.45" stroke-opacity="0.8" stroke-linejoin="round"/>
<polygon points="123.10,168.93 131.85,167.81 124.65,161.45 115.90,161.36" fill="#4539d6" stroke="#1a1a1a" stroke-width="0.45" stroke-opacity="0.8" stroke-linejoin="round"/>
<polygon points="139.05,173.51 147.79,169.43 140.59,164.69 131.85,167.81" fill="#402abd" stroke="#1a1a1a" stroke-width="0.45" stroke-opacity="0.8" stroke-linejoin="round"/>
<polygon points="130.30,176.12 139.05,173.51 131.85,167.81 123.10,168.93" fill="#3f29ba" stroke="#1a1a1a" stroke-width="0.45" stroke-opacity="0.8" stroke-linejoin="round"/>
<line x1="29.50" y1="134.40" x2="29.50" y2="39.00" stroke="#878787" stroke-width="0.7"/>
<line x1="29.50" y1="134.40" x2="130.30" y2="177.20" stroke="#878787" stroke-width="0.7"/>
<line x1="130.30" y1="177.20" x2="261.50" y2="144.00" stroke="#878787" stroke-width="0.7"/>
<line x1="29.50" y1="120.28" x2="27.30" y2="120.28" stroke="#878787" stroke-width="0.6"/>
<line x1="29.50" y1="104.77" x2="27.30" y2="104.77" stroke="#878787" stroke-width="0.6"/>
<line x1="29.50" y1="89.26" x2="27.30" y2="89.26" stroke="#878787" stroke-width="0.6"/>
<line x1="29.50" y1="73.75" x2="27.30" y2="73.75" stroke="#878787" stroke-width="0.6"/>
<line x1="29.50" y1="58.24" x2="27.30" y2="58.24" stroke="#878787" stroke-width="0.6"/>
<line x1="29.50" y1="42.72" x2="27.30" y2="42.72" stroke="#878787" stroke-width="0.6"/>
<line x1="130.30" y1="177.20" x2="133.06" y2="178.37" stroke="#878787" stroke-width="0.6"/>
<line x1="163.10" y1="168.90" x2="165.86" y2="170.07" stroke="#878787" stroke-width="0.6"/>
<line x1="195.90" y1="160.60" x2="198.66" y2="161.77" stroke="#878787" stroke-width="0.6"/>
<line x1="228.70" y1="152.30" x2="231.46" y2="153.47" stroke="#878787" stroke-width="0.6"/>
<line x1="261.50" y1="144.00" x2="264.26" y2="145.17" stroke="#878787" stroke-width="0.6"/>
<line x1="115.90" y1="171.09" x2="112.99" y2="171.82" stroke="#878787" stroke-width="0.6"/>
<line x1="87.10" y1="158.86" x2="84.19" y2="159.59" stroke="#878787" stroke-width="0.6"/>
<line x1="58.30" y1="146.63" x2="55.39" y2="147.36" stroke="#878787" stroke-width="0.6"/>
<line x1="29.50" y1="134.40" x2="26.59" y2="135.14" stroke="#878787" stroke-width="0.6"/>
<circle cx="171.9" cy="102.2" r="1.2" fill="#e6a283" stroke="#cfe9ea" stroke-width="0.5"/>
<text x="22.40" y="13.20" class="tg" font-size="10" font-weight="bold" fill="#e0202a" text-anchor="middle" dominant-baseline="central" textLength="10" lengthAdjust="spacingAndGlyphs">[a]</text>
<text transform="translate(8.30,86.00) rotate(-90)" font-size="7.4" text-anchor="middle" dominant-baseline="central">Power density W/cm2</text>
<text x="24.50" y="120.30" font-size="6.9" text-anchor="end" dominant-baseline="central">350</text>
<text x="24.50" y="104.80" font-size="6.9" text-anchor="end" dominant-baseline="central">400</text>
<text x="24.50" y="89.20" font-size="6.9" text-anchor="end" dominant-baseline="central">450</text>
<text x="24.50" y="73.70" font-size="6.9" text-anchor="end" dominant-baseline="central">500</text>
<text x="24.50" y="58.20" font-size="6.9" text-anchor="end" dominant-baseline="central">550</text>
<text x="24.50" y="42.70" font-size="6.9" text-anchor="end" dominant-baseline="central">600</text>
<text x="22.10" y="139.90" font-size="6.9" text-anchor="middle" dominant-baseline="central">1</text>
<text x="47.60" y="152.20" font-size="6.9" text-anchor="middle" dominant-baseline="central">0.8</text>
<text x="76.80" y="164.60" font-size="6.9" text-anchor="middle" dominant-baseline="central">0.6</text>
<text x="104.50" y="176.00" font-size="6.9" text-anchor="middle" dominant-baseline="central">0.4</text>
<text x="138.50" y="183.40" font-size="6.9" text-anchor="middle" dominant-baseline="central">0.2</text>
<text x="172.20" y="175.30" font-size="6.9" text-anchor="middle" dominant-baseline="central">0.4</text>
<text x="204.60" y="167.10" font-size="6.9" text-anchor="middle" dominant-baseline="central">0.6</text>
<text x="238.20" y="158.90" font-size="6.9" text-anchor="middle" dominant-baseline="central">0.8</text>
<text x="267.30" y="150.70" font-size="6.9" text-anchor="middle" dominant-baseline="central">1</text>
<text x="57.30" y="174.30" font-size="7.4" text-anchor="middle" dominant-baseline="central">Normalized relative</text>
<text x="55.50" y="182.70" font-size="7.4" text-anchor="middle" dominant-baseline="central">humidity</text>
<text x="221.70" y="177.80" font-size="7.4" text-anchor="middle" dominant-baseline="central">Normalized pressure</text>
<polygon points="301.00,132.70 433.30,99.30 433.30,4.60 301.00,38.00" fill="#ffffff"/>
<polygon points="433.30,99.30 534.80,142.60 534.80,47.90 433.30,4.60" fill="#ffffff"/>
<polygon points="301.00,132.70 402.50,176.00 534.80,142.60 433.30,99.30" fill="#ffffff"/>
<line x1="402.50" y1="176.00" x2="301.00" y2="132.70" stroke="#e9e9e9" stroke-width="0.6"/>
<line x1="301.00" y1="132.70" x2="301.00" y2="38.00" stroke="#e9e9e9" stroke-width="0.6"/>
<line x1="435.57" y1="167.65" x2="334.07" y2="124.35" stroke="#e9e9e9" stroke-width="0.6"/>
<line x1="334.07" y1="124.35" x2="334.07" y2="29.65" stroke="#e9e9e9" stroke-width="0.6"/>
<line x1="468.65" y1="159.30" x2="367.15" y2="116.00" stroke="#e9e9e9" stroke-width="0.6"/>
<line x1="367.15" y1="116.00" x2="367.15" y2="21.30" stroke="#e9e9e9" stroke-width="0.6"/>
<line x1="501.72" y1="150.95" x2="400.22" y2="107.65" stroke="#e9e9e9" stroke-width="0.6"/>
<line x1="400.22" y1="107.65" x2="400.22" y2="12.95" stroke="#e9e9e9" stroke-width="0.6"/>
<line x1="534.80" y1="142.60" x2="433.30" y2="99.30" stroke="#e9e9e9" stroke-width="0.6"/>
<line x1="433.30" y1="99.30" x2="433.30" y2="4.60" stroke="#e9e9e9" stroke-width="0.6"/>
<line x1="388.00" y1="169.81" x2="520.30" y2="136.41" stroke="#e9e9e9" stroke-width="0.6"/>
<line x1="520.30" y1="136.41" x2="520.30" y2="41.71" stroke="#e9e9e9" stroke-width="0.6"/>
<line x1="359.00" y1="157.44" x2="491.30" y2="124.04" stroke="#e9e9e9" stroke-width="0.6"/>
<line x1="491.30" y1="124.04" x2="491.30" y2="29.34" stroke="#e9e9e9" stroke-width="0.6"/>
<line x1="330.00" y1="145.07" x2="462.30" y2="111.67" stroke="#e9e9e9" stroke-width="0.6"/>
<line x1="462.30" y1="111.67" x2="462.30" y2="16.97" stroke="#e9e9e9" stroke-width="0.6"/>
<line x1="301.00" y1="132.70" x2="433.30" y2="99.30" stroke="#e9e9e9" stroke-width="0.6"/>
<line x1="433.30" y1="99.30" x2="433.30" y2="4.60" stroke="#e9e9e9" stroke-width="0.6"/>
<line x1="301.00" y1="121.72" x2="433.30" y2="88.32" stroke="#e9e9e9" stroke-width="0.6"/>
<line x1="433.30" y1="88.32" x2="534.80" y2="131.62" stroke="#e9e9e9" stroke-width="0.6"/>
<line x1="301.00" y1="106.87" x2="433.30" y2="73.47" stroke="#e9e9e9" stroke-width="0.6"/>
<line x1="433.30" y1="73.47" x2="534.80" y2="116.77" stroke="#e9e9e9" stroke-width="0.6"/>
<line x1="301.00" y1="92.03" x2="433.30" y2="58.63" stroke="#e9e9e9" stroke-width="0.6"/>
<line x1="433.30" y1="58.63" x2="534.80" y2="101.93" stroke="#e9e9e9" stroke-width="0.6"/>
<line x1="301.00" y1="77.19" x2="433.30" y2="43.79" stroke="#e9e9e9" stroke-width="0.6"/>
<line x1="433.30" y1="43.79" x2="534.80" y2="87.09" stroke="#e9e9e9" stroke-width="0.6"/>
<line x1="301.00" y1="62.34" x2="433.30" y2="28.94" stroke="#e9e9e9" stroke-width="0.6"/>
<line x1="433.30" y1="28.94" x2="534.80" y2="72.24" stroke="#e9e9e9" stroke-width="0.6"/>
<line x1="301.00" y1="47.50" x2="433.30" y2="14.10" stroke="#e9e9e9" stroke-width="0.6"/>
<line x1="433.30" y1="14.10" x2="534.80" y2="57.40" stroke="#e9e9e9" stroke-width="0.6"/>
<polygon points="371.08,92.60 378.43,89.76 372.79,91.67 365.44,95.56" fill="#4448e4" stroke="#4448e4" stroke-width="0.35" stroke-linejoin="round"/>
<polygon points="384.07,87.76 391.42,82.98 385.78,86.77 378.43,89.76" fill="#2876f0" stroke="#2876f0" stroke-width="0.35" stroke-linejoin="round"/>
<polygon points="397.06,78.91 404.41,72.92 398.77,77.54 391.42,82.98" fill="#11acd3" stroke="#11acd3" stroke-width="0.35" stroke-linejoin="round"/>
<polygon points="410.04,67.90 417.39,59.08 411.76,66.09 404.41,72.92" fill="#13b4c2" stroke="#13b4c2" stroke-width="0.35" stroke-linejoin="round"/>
<polygon points="363.73,99.32 371.08,92.60 365.44,95.56 358.09,99.46" fill="#453fdb" stroke="#453fdb" stroke-width="0.35" stroke-linejoin="round"/>
<polygon points="423.03,53.88 430.38,48.94 424.74,52.13 417.39,59.08" fill="#1ab7b7" stroke="#1ab7b7" stroke-width="0.35" stroke-linejoin="round"/>
<polygon points="376.72,91.55 384.07,87.76 378.43,89.76 371.08,92.60" fill="#395beb" stroke="#395beb" stroke-width="0.35" stroke-linejoin="round"/>
<polygon points="436.02,49.00 443.37,48.83 437.73,48.77 430.38,48.94" fill="#32bca2" stroke="#32bca2" stroke-width="0.35" stroke-linejoin="round"/>
<polygon points="389.71,84.85 397.06,78.91 391.42,82.98 384.07,87.76" fill="#199ce5" stroke="#199ce5" stroke-width="0.35" stroke-linejoin="round"/>
<polygon points="343.39,107.43 350.74,103.14 345.10,106.16 337.75,111.67" fill="#4632cf" stroke="#4632cf" stroke-width="0.35" stroke-linejoin="round"/>
<polygon points="449.01,46.23 456.36,42.43 450.72,45.13 443.37,48.83" fill="#8cc463" stroke="#8cc463" stroke-width="0.35" stroke-linejoin="round"/>
<polygon points="402.69,74.99 410.04,67.90 404.41,72.92 397.06,78.91" fill="#10b2c9" stroke="#10b2c9" stroke-width="0.35" stroke-linejoin="round"/>
<polygon points="356.38,104.33 363.73,99.32 358.09,99.46 350.74,103.14" fill="#4539d6" stroke="#4539d6" stroke-width="0.35" stroke-linejoin="round"/>
<polygon points="462.00,40.67 469.35,39.01 463.71,39.88 456.36,42.43" fill="#c6be40" stroke="#c6be40" stroke-width="0.35" stroke-linejoin="round"/>
<polygon points="415.68,63.45 423.03,53.88 417.39,59.08 410.04,67.90" fill="#18b6bb" stroke="#18b6bb" stroke-width="0.35" stroke-linejoin="round"/>
<polygon points="369.37,97.00 376.72,91.55 371.08,92.60 363.73,99.32" fill="#3e52e8" stroke="#3e52e8" stroke-width="0.35" stroke-linejoin="round"/>
<polygon points="474.99,40.65 482.34,43.31 476.70,41.03 469.35,39.01" fill="#ecb738" stroke="#ecb738" stroke-width="0.35" stroke-linejoin="round"/>
<polygon points="428.67,54.16 436.02,49.00 430.38,48.94 423.03,53.88" fill="#20b9b1" stroke="#20b9b1" stroke-width="0.35" stroke-linejoin="round"/>
<polygon points="382.36,90.10 389.71,84.85 384.07,87.76 376.72,91.55" fill="#2088ed" stroke="#2088ed" stroke-width="0.35" stroke-linejoin="round"/>
<polygon points="336.04,114.82 343.39,107.43 337.75,111.67 330.40,119.23" fill="#4630cd" stroke="#4630cd" stroke-width="0.35" stroke-linejoin="round"/>
<polygon points="487.98,46.14 495.33,49.46 489.69,46.95 482.34,43.31" fill="#f8b735" stroke="#f8b735" stroke-width="0.35" stroke-linejoin="round"/>
<polygon points="441.66,51.00 449.01,46.23 443.37,48.83 436.02,49.00" fill="#61c27f" stroke="#61c27f" stroke-width="0.35" stroke-linejoin="round"/>
<polygon points="395.34,81.24 402.69,74.99 397.06,78.91 389.71,84.85" fill="#11afce" stroke="#11afce" stroke-width="0.35" stroke-linejoin="round"/>
<polygon points="349.03,109.30 356.38,104.33 350.74,103.14 343.39,107.43" fill="#4537d3" stroke="#4537d3" stroke-width="0.35" stroke-linejoin="round"/>
<polygon points="454.65,45.44 462.00,40.67 456.36,42.43 449.01,46.23" fill="#acc14e" stroke="#acc14e" stroke-width="0.35" stroke-linejoin="round"/>
<polygon points="408.33,71.30 415.68,63.45 410.04,67.90 402.69,74.99" fill="#15b5bf" stroke="#15b5bf" stroke-width="0.35" stroke-linejoin="round"/>
<polygon points="362.02,106.15 369.37,97.00 363.73,99.32 356.38,104.33" fill="#4446e2" stroke="#4446e2" stroke-width="0.35" stroke-linejoin="round"/>
<polygon points="467.64,41.64 474.99,40.65 469.35,39.01 462.00,40.67" fill="#dbba3c" stroke="#dbba3c" stroke-width="0.35" stroke-linejoin="round"/>
<polygon points="421.32,62.28 428.67,54.16 423.03,53.88 415.68,63.45" fill="#1fb9b1" stroke="#1fb9b1" stroke-width="0.35" stroke-linejoin="round"/>
<polygon points="375.01,94.56 382.36,90.10 376.72,91.55 369.37,97.00" fill="#2381ef" stroke="#2381ef" stroke-width="0.35" stroke-linejoin="round"/>
<polygon points="328.69,121.94 336.04,114.82 330.40,119.23 323.05,123.77" fill="#4630cd" stroke="#4630cd" stroke-width="0.35" stroke-linejoin="round"/>
<polygon points="480.63,44.62 487.98,46.14 482.34,43.31 474.99,40.65" fill="#f1b737" stroke="#f1b737" stroke-width="0.35" stroke-linejoin="round"/>
<polygon points="434.31,56.83 441.66,51.00 436.02,49.00 428.67,54.16" fill="#40be97" stroke="#40be97" stroke-width="0.35" stroke-linejoin="round"/>
<polygon points="387.99,87.08 395.34,81.24 389.71,84.85 382.36,90.10" fill="#12abd6" stroke="#12abd6" stroke-width="0.35" stroke-linejoin="round"/>
<polygon points="341.68,115.21 349.03,109.30 343.39,107.43 336.04,114.82" fill="#4635d2" stroke="#4635d2" stroke-width="0.35" stroke-linejoin="round"/>
<polygon points="493.62,49.92 500.97,48.58 495.33,49.46 487.98,46.14" fill="#f9ba33" stroke="#f9ba33" stroke-width="0.35" stroke-linejoin="round"/>
<polygon points="447.30,51.51 454.65,45.44 449.01,46.23 441.66,51.00" fill="#96c35c" stroke="#96c35c" stroke-width="0.35" stroke-linejoin="round"/>
<polygon points="400.98,78.15 408.33,71.30 402.69,74.99 395.34,81.24" fill="#15b4c0" stroke="#15b4c0" stroke-width="0.35" stroke-linejoin="round"/>
<polygon points="354.67,111.05 362.02,106.15 356.38,104.33 349.03,109.30" fill="#4541dd" stroke="#4541dd" stroke-width="0.35" stroke-linejoin="round"/>
<polygon points="460.29,46.83 467.64,41.64 462.00,40.67 454.65,45.44" fill="#c6be40" stroke="#c6be40" stroke-width="0.35" stroke-linejoin="round"/>
<polygon points="413.97,69.14 421.32,62.28 415.68,63.45 408.33,71.30" fill="#21b9b0" stroke="#21b9b0" stroke-width="0.35" stroke-linejoin="round"/>
<polygon points="367.66,103.74 375.01,94.56 369.37,97.00 362.02,106.15" fill="#2975f0" stroke="#2975f0" stroke-width="0.35" stroke-linejoin="round"/>
<polygon points="321.34,126.53 328.69,121.94 323.05,123.77 315.70,127.41" fill="#452fcb" stroke="#452fcb" stroke-width="0.35" stroke-linejoin="round"/>
<polygon points="473.28,45.06 480.63,44.62 474.99,40.65 467.64,41.64" fill="#e7b839" stroke="#e7b839" stroke-width="0.35" stroke-linejoin="round"/>
<polygon points="426.96,66.10 434.31,56.83 428.67,54.16 421.32,62.28" fill="#43bf95" stroke="#43bf95" stroke-width="0.35" stroke-linejoin="round"/>
<polygon points="380.64,94.70 387.99,87.08 382.36,90.10 375.01,94.56" fill="#15a5dd" stroke="#15a5dd" stroke-width="0.35" stroke-linejoin="round"/>
<polygon points="334.33,120.80 341.68,115.21 336.04,114.82 328.69,121.94" fill="#4538d5" stroke="#4538d5" stroke-width="0.35" stroke-linejoin="round"/>
<polygon points="486.27,48.62 493.62,49.92 487.98,46.14 480.63,44.62" fill="#f4b637" stroke="#f4b637" stroke-width="0.35" stroke-linejoin="round"/>
<polygon points="439.95,60.09 447.30,51.51 441.66,51.00 434.31,56.83" fill="#84c468" stroke="#84c468" stroke-width="0.35" stroke-linejoin="round"/>
<polygon points="393.63,86.44 400.98,78.15 395.34,81.24 387.99,87.08" fill="#12b3c5" stroke="#12b3c5" stroke-width="0.35" stroke-linejoin="round"/>
<polygon points="347.32,115.53 354.67,111.05 349.03,109.30 341.68,115.21" fill="#4445e1" stroke="#4445e1" stroke-width="0.35" stroke-linejoin="round"/>
<polygon points="499.26,50.28 506.61,47.19 500.97,48.58 493.62,49.92" fill="#fabc31" stroke="#fabc31" stroke-width="0.35" stroke-linejoin="round"/>
<polygon points="452.94,54.35 460.29,46.83 454.65,45.44 447.30,51.51" fill="#b7c048" stroke="#b7c048" stroke-width="0.35" stroke-linejoin="round"/>
<polygon points="406.62,78.39 413.97,69.14 408.33,71.30 400.98,78.15" fill="#1bb8b5" stroke="#1bb8b5" stroke-width="0.35" stroke-linejoin="round"/>
<polygon points="360.31,112.30 367.66,103.74 362.02,106.15 354.67,111.05" fill="#3366ee" stroke="#3366ee" stroke-width="0.35" stroke-linejoin="round"/>
<polygon points="313.99,130.49 321.34,126.53 315.70,127.41 308.35,130.45" fill="#432dc6" stroke="#432dc6" stroke-width="0.35" stroke-linejoin="round"/>
<polygon points="465.93,49.98 473.28,45.06 467.64,41.64 460.29,46.83" fill="#d8ba3c" stroke="#d8ba3c" stroke-width="0.35" stroke-linejoin="round"/>
<polygon points="419.61,72.91 426.96,66.10 421.32,62.28 413.97,69.14" fill="#50c08b" stroke="#50c08b" stroke-width="0.35" stroke-linejoin="round"/>
<polygon points="373.29,102.72 380.64,94.70 375.01,94.56 367.66,103.74" fill="#189de4" stroke="#189de4" stroke-width="0.35" stroke-linejoin="round"/>
<polygon points="326.98,124.92 334.33,120.80 328.69,121.94 321.34,126.53" fill="#453bd7" stroke="#453bd7" stroke-width="0.35" stroke-linejoin="round"/>
<polygon points="478.92,49.01 486.27,48.62 480.63,44.62 473.28,45.06" fill="#eab739" stroke="#eab739" stroke-width="0.35" stroke-linejoin="round"/>
<polygon points="432.60,67.61 439.95,60.09 434.31,56.83 426.96,66.10" fill="#97c35b" stroke="#97c35b" stroke-width="0.35" stroke-linejoin="round"/>
<polygon points="386.28,96.10 393.63,86.44 387.99,87.08 380.64,94.70" fill="#11aed0" stroke="#11aed0" stroke-width="0.35" stroke-linejoin="round"/>
<polygon points="339.97,119.51 347.32,115.53 341.68,115.21 334.33,120.80" fill="#424be5" stroke="#424be5" stroke-width="0.35" stroke-linejoin="round"/>
<polygon points="491.91,52.25 499.26,50.28 493.62,49.92 486.27,48.62" fill="#f7b636" stroke="#f7b636" stroke-width="0.35" stroke-linejoin="round"/>
<polygon points="445.59,60.71 452.94,54.35 447.30,51.51 439.95,60.09" fill="#bcbf45" stroke="#bcbf45" stroke-width="0.35" stroke-linejoin="round"/>
<polygon points="399.27,88.48 406.62,78.39 400.98,78.15 393.63,86.44" fill="#15b5bf" stroke="#15b5bf" stroke-width="0.35" stroke-linejoin="round"/>
<polygon points="352.96,115.62 360.31,112.30 354.67,111.05 347.32,115.53" fill="#3563ee" stroke="#3563ee" stroke-width="0.35" stroke-linejoin="round"/>
<polygon points="504.89,49.61 512.24,46.19 506.61,47.19 499.26,50.28" fill="#fbc02f" stroke="#fbc02f" stroke-width="0.35" stroke-linejoin="round"/>
<polygon points="306.64,132.68 313.99,130.49 308.35,130.45 301.00,133.00" fill="#402abc" stroke="#402abc" stroke-width="0.35" stroke-linejoin="round"/>
<polygon points="458.58,55.89 465.93,49.98 460.29,46.83 452.94,54.35" fill="#d8ba3c" stroke="#d8ba3c" stroke-width="0.35" stroke-linejoin="round"/>
<polygon points="412.26,80.16 419.61,72.91 413.97,69.14 406.62,78.39" fill="#33bda1" stroke="#33bda1" stroke-width="0.35" stroke-linejoin="round"/>
<polygon points="365.94,111.64 373.29,102.72 367.66,103.74 360.31,112.30" fill="#1f8cec" stroke="#1f8cec" stroke-width="0.35" stroke-linejoin="round"/>
<polygon points="319.63,128.56 326.98,124.92 321.34,126.53 313.99,130.49" fill="#4634d1" stroke="#4634d1" stroke-width="0.35" stroke-linejoin="round"/>
<polygon points="471.57,52.01 478.92,49.01 473.28,45.06 465.93,49.98" fill="#eab739" stroke="#eab739" stroke-width="0.35" stroke-linejoin="round"/>
<polygon points="425.25,74.66 432.60,67.61 426.96,66.10 419.61,72.91" fill="#b0c14c" stroke="#b0c14c" stroke-width="0.35" stroke-linejoin="round"/>
<polygon points="378.93,103.43 386.28,96.10 380.64,94.70 373.29,102.72" fill="#13a8da" stroke="#13a8da" stroke-width="0.35" stroke-linejoin="round"/>
<polygon points="332.62,123.04 339.97,119.51 334.33,120.80 326.98,124.92" fill="#424be5" stroke="#424be5" stroke-width="0.35" stroke-linejoin="round"/>
<polygon points="484.56,52.43 491.91,52.25 486.27,48.62 478.92,49.01" fill="#f5b637" stroke="#f5b637" stroke-width="0.35" stroke-linejoin="round"/>
<polygon points="438.24,66.71 445.59,60.71 439.95,60.09 432.60,67.61" fill="#ebb739" stroke="#ebb739" stroke-width="0.35" stroke-linejoin="round"/>
<polygon points="391.92,95.81 399.27,88.48 393.63,86.44 386.28,96.10" fill="#10b1cb" stroke="#10b1cb" stroke-width="0.35" stroke-linejoin="round"/>
<polygon points="345.61,118.56 352.96,115.62 347.32,115.53 339.97,119.51" fill="#3563ee" stroke="#3563ee" stroke-width="0.35" stroke-linejoin="round"/>
<polygon points="497.54,53.71 504.89,49.61 499.26,50.28 491.91,52.25" fill="#f9ba33" stroke="#f9ba33" stroke-width="0.35" stroke-linejoin="round"/>
<polygon points="451.23,60.63 458.58,55.89 452.94,54.35 445.59,60.71" fill="#f6b636" stroke="#f6b636" stroke-width="0.35" stroke-linejoin="round"/>
<polygon points="404.91,88.55 412.26,80.16 406.62,78.39 399.27,88.48" fill="#19b7b9" stroke="#19b7b9" stroke-width="0.35" stroke-linejoin="round"/>
<polygon points="358.59,116.63 365.94,111.64 360.31,112.30 352.96,115.62" fill="#2779f0" stroke="#2779f0" stroke-width="0.35" stroke-linejoin="round"/>
<polygon points="510.53,50.00 517.88,45.70 512.24,46.19 504.89,49.61" fill="#fcc42c" stroke="#fcc42c" stroke-width="0.35" stroke-linejoin="round"/>
<polygon points="312.28,131.96 319.63,128.56 313.99,130.49 306.64,132.68" fill="#432dc5" stroke="#432dc5" stroke-width="0.35" stroke-linejoin="round"/>
<polygon points="464.22,56.13 471.57,52.01 465.93,49.98 458.58,55.89" fill="#fabc32" stroke="#fabc32" stroke-width="0.35" stroke-linejoin="round"/>
<polygon points="417.90,80.88 425.25,74.66 419.61,72.91 412.26,80.16" fill="#7ec46c" stroke="#7ec46c" stroke-width="0.35" stroke-linejoin="round"/>
<polygon points="371.58,110.13 378.93,103.43 373.29,102.72 365.94,111.64" fill="#189de4" stroke="#189de4" stroke-width="0.35" stroke-linejoin="round"/>
<polygon points="325.27,126.93 332.62,123.04 326.98,124.92 319.63,128.56" fill="#4541dd" stroke="#4541dd" stroke-width="0.35" stroke-linejoin="round"/>
<polygon points="477.21,53.72 484.56,52.43 478.92,49.01 471.57,52.01" fill="#fbc22e" stroke="#fbc22e" stroke-width="0.35" stroke-linejoin="round"/>
<polygon points="430.89,73.68 438.24,66.71 432.60,67.61 425.25,74.66" fill="#fabe30" stroke="#fabe30" stroke-width="0.35" stroke-linejoin="round"/>
<polygon points="384.57,104.10 391.92,95.81 386.28,96.10 378.93,103.43" fill="#12aad8" stroke="#12aad8" stroke-width="0.35" stroke-linejoin="round"/>
<polygon points="338.26,122.01 345.61,118.56 339.97,119.51 332.62,123.04" fill="#395beb" stroke="#395beb" stroke-width="0.35" stroke-linejoin="round"/>
<polygon points="490.19,54.69 497.54,53.71 491.91,52.25 484.56,52.43" fill="#fcc42c" stroke="#fcc42c" stroke-width="0.35" stroke-linejoin="round"/>
<polygon points="443.88,67.13 451.23,60.63 445.59,60.71 438.24,66.71" fill="#fad227" stroke="#fad227" stroke-width="0.35" stroke-linejoin="round"/>
<polygon points="397.56,95.34 404.91,88.55 399.27,88.48 391.92,95.81" fill="#11b2c7" stroke="#11b2c7" stroke-width="0.35" stroke-linejoin="round"/>
<polygon points="351.24,118.57 358.59,116.63 352.96,115.62 345.61,118.56" fill="#2d6fef" stroke="#2d6fef" stroke-width="0.35" stroke-linejoin="round"/>
<polygon points="503.18,54.36 510.53,50.00 504.89,49.61 497.54,53.71" fill="#fcc52b" stroke="#fcc52b" stroke-width="0.35" stroke-linejoin="round"/>
<polygon points="456.87,61.66 464.22,56.13 458.58,55.89 451.23,60.63" fill="#fad525" stroke="#fad525" stroke-width="0.35" stroke-linejoin="round"/>
<polygon points="410.55,87.57 417.90,80.88 412.26,80.16 404.91,88.55" fill="#2dbba6" stroke="#2dbba6" stroke-width="0.35" stroke-linejoin="round"/>
<polygon points="364.23,117.98 371.58,110.13 365.94,111.64 358.59,116.63" fill="#208aed" stroke="#208aed" stroke-width="0.35" stroke-linejoin="round"/>
<polygon points="516.17,51.34 523.52,45.53 517.88,45.70 510.53,50.00" fill="#fbca2a" stroke="#fbca2a" stroke-width="0.35" stroke-linejoin="round"/>
<polygon points="317.92,130.25 325.27,126.93 319.63,128.56 312.28,131.96" fill="#4634d1" stroke="#4634d1" stroke-width="0.35" stroke-linejoin="round"/>
<polygon points="469.86,57.29 477.21,53.72 471.57,52.01 464.22,56.13" fill="#fad824" stroke="#fad824" stroke-width="0.35" stroke-linejoin="round"/>
<polygon points="423.54,80.60 430.89,73.68 425.25,74.66 417.90,80.88" fill="#d9ba3c" stroke="#d9ba3c" stroke-width="0.35" stroke-linejoin="round"/>
<polygon points="377.22,110.85 384.57,104.10 378.93,103.43 371.58,110.13" fill="#17a1e1" stroke="#17a1e1" stroke-width="0.35" stroke-linejoin="round"/>
<polygon points="330.91,125.63 338.26,122.01 332.62,123.04 325.27,126.93" fill="#3f50e7" stroke="#3f50e7" stroke-width="0.35" stroke-linejoin="round"/>
<polygon points="482.84,55.66 490.19,54.69 484.56,52.43 477.21,53.72" fill="#f9dc22" stroke="#f9dc22" stroke-width="0.35" stroke-linejoin="round"/>
<polygon points="436.53,74.14 443.88,67.13 438.24,66.71 430.89,73.68" fill="#f9de21" stroke="#f9de21" stroke-width="0.35" stroke-linejoin="round"/>
<polygon points="390.21,103.12 397.56,95.34 391.92,95.81 384.57,104.10" fill="#12acd5" stroke="#12acd5" stroke-width="0.35" stroke-linejoin="round"/>
<polygon points="343.89,123.13 351.24,118.57 345.61,118.56 338.26,122.01" fill="#3267ee" stroke="#3267ee" stroke-width="0.35" stroke-linejoin="round"/>
<polygon points="495.83,56.75 503.18,54.36 497.54,53.71 490.19,54.69" fill="#fad824" stroke="#fad824" stroke-width="0.35" stroke-linejoin="round"/>
<polygon points="449.52,68.33 456.87,61.66 451.23,60.63 443.88,67.13" fill="#f8e41f" stroke="#f8e41f" stroke-width="0.35" stroke-linejoin="round"/>
<polygon points="403.20,95.25 410.55,87.57 404.91,88.55 397.56,95.34" fill="#17b5bd" stroke="#17b5bd" stroke-width="0.35" stroke-linejoin="round"/>
<polygon points="356.88,121.23 364.23,117.98 358.59,116.63 351.24,118.57" fill="#2779f0" stroke="#2779f0" stroke-width="0.35" stroke-linejoin="round"/>
<polygon points="508.82,56.22 516.17,51.34 510.53,50.00 503.18,54.36" fill="#fad426" stroke="#fad426" stroke-width="0.35" stroke-linejoin="round"/>
<polygon points="462.51,62.63 469.86,57.29 464.22,56.13 456.87,61.66" fill="#f8e41f" stroke="#f8e41f" stroke-width="0.35" stroke-linejoin="round"/>
<polygon points="416.19,87.27 423.54,80.60 417.90,80.88 410.55,87.57" fill="#6bc378" stroke="#6bc378" stroke-width="0.35" stroke-linejoin="round"/>
<polygon points="369.87,118.58 377.22,110.85 371.58,110.13 364.23,117.98" fill="#1c94e9" stroke="#1c94e9" stroke-width="0.35" stroke-linejoin="round"/>
<polygon points="521.81,52.87 529.16,47.57 523.52,45.53 516.17,51.34" fill="#fad625" stroke="#fad625" stroke-width="0.35" stroke-linejoin="round"/>
<polygon points="323.56,128.23 330.91,125.63 325.27,126.93 317.92,130.25" fill="#4542de" stroke="#4542de" stroke-width="0.35" stroke-linejoin="round"/>
<polygon points="475.49,58.20 482.84,55.66 477.21,53.72 469.86,57.29" fill="#f8e71d" stroke="#f8e71d" stroke-width="0.35" stroke-linejoin="round"/>
<polygon points="429.18,82.74 436.53,74.14 430.89,73.68 423.54,80.60" fill="#fbc12e" stroke="#fbc12e" stroke-width="0.35" stroke-linejoin="round"/>
<polygon points="382.86,113.39 390.21,103.12 384.57,104.10 377.22,110.85" fill="#16a1e1" stroke="#16a1e1" stroke-width="0.35" stroke-linejoin="round"/>
<polygon points="336.54,126.24 343.89,123.13 338.26,122.01 330.91,125.63" fill="#375fec" stroke="#375fec" stroke-width="0.35" stroke-linejoin="round"/>
<polygon points="488.48,57.25 495.83,56.75 490.19,54.69 482.84,55.66" fill="#f8e81d" stroke="#f8e81d" stroke-width="0.35" stroke-linejoin="round"/>
<polygon points="442.17,78.01 449.52,68.33 443.88,67.13 436.53,74.14" fill="#f9dc22" stroke="#f9dc22" stroke-width="0.35" stroke-linejoin="round"/>
<polygon points="395.85,103.71 403.20,95.25 397.56,95.34 390.21,103.12" fill="#11b0cd" stroke="#11b0cd" stroke-width="0.35" stroke-linejoin="round"/>
<polygon points="349.53,126.14 356.88,121.23 351.24,118.57 343.89,123.13" fill="#2c70ef" stroke="#2c70ef" stroke-width="0.35" stroke-linejoin="round"/>
<polygon points="501.47,58.89 508.82,56.22 503.18,54.36 495.83,56.75" fill="#f8e61e" stroke="#f8e61e" stroke-width="0.35" stroke-linejoin="round"/>
<polygon points="455.16,70.59 462.51,62.63 456.87,61.66 449.52,68.33" fill="#f9df21" stroke="#f9df21" stroke-width="0.35" stroke-linejoin="round"/>
<polygon points="408.84,96.39 416.19,87.27 410.55,87.57 403.20,95.25" fill="#28bbaa" stroke="#28bbaa" stroke-width="0.35" stroke-linejoin="round"/>
<polygon points="362.52,126.29 369.87,118.58 364.23,117.98 356.88,121.23" fill="#2382ee" stroke="#2382ee" stroke-width="0.35" stroke-linejoin="round"/>
<polygon points="514.46,59.06 521.81,52.87 516.17,51.34 508.82,56.22" fill="#f8e31f" stroke="#f8e31f" stroke-width="0.35" stroke-linejoin="round"/>
<polygon points="468.14,64.27 475.49,58.20 469.86,57.29 462.51,62.63" fill="#f8e220" stroke="#f8e220" stroke-width="0.35" stroke-linejoin="round"/>
<polygon points="421.83,90.06 429.18,82.74 423.54,80.60 416.19,87.27" fill="#b1c14b" stroke="#b1c14b" stroke-width="0.35" stroke-linejoin="round"/>
<polygon points="375.51,123.56 382.86,113.39 377.22,110.85 369.87,118.58" fill="#1b96e8" stroke="#1b96e8" stroke-width="0.35" stroke-linejoin="round"/>
<polygon points="527.45,55.06 534.80,50.35 529.16,47.57 521.81,52.87" fill="#f8e71d" stroke="#f8e71d" stroke-width="0.35" stroke-linejoin="round"/>
<polygon points="329.19,126.38 336.54,126.24 330.91,125.63 323.56,128.23" fill="#3f51e7" stroke="#3f51e7" stroke-width="0.35" stroke-linejoin="round"/>
<polygon points="481.13,58.84 488.48,57.25 482.84,55.66 475.49,58.20" fill="#f8e71d" stroke="#f8e71d" stroke-width="0.35" stroke-linejoin="round"/>
<polygon points="434.82,86.77 442.17,78.01 436.53,74.14 429.18,82.74" fill="#fbc12e" stroke="#fbc12e" stroke-width="0.35" stroke-linejoin="round"/>
<polygon points="388.50,116.83 395.85,103.71 390.21,103.12 382.86,113.39" fill="#14a5dd" stroke="#14a5dd" stroke-width="0.35" stroke-linejoin="round"/>
<polygon points="342.18,127.66 349.53,126.14 343.89,123.13 336.54,126.24" fill="#3169ee" stroke="#3169ee" stroke-width="0.35" stroke-linejoin="round"/>
<polygon points="494.12,59.52 501.47,58.89 495.83,56.75 488.48,57.25" fill="#f8e81d" stroke="#f8e81d" stroke-width="0.35" stroke-linejoin="round"/>
<polygon points="447.81,79.93 455.16,70.59 449.52,68.33 442.17,78.01" fill="#fbcb29" stroke="#fbcb29" stroke-width="0.35" stroke-linejoin="round"/>
<polygon points="401.49,108.73 408.84,96.39 403.20,95.25 395.85,103.71" fill="#18b6ba" stroke="#18b6ba" stroke-width="0.35" stroke-linejoin="round"/>
<polygon points="355.17,129.53 362.52,126.29 356.88,121.23 349.53,126.14" fill="#2976f0" stroke="#2976f0" stroke-width="0.35" stroke-linejoin="round"/>
<polygon points="507.11,61.72 514.46,59.06 508.82,56.22 501.47,58.89" fill="#f8ea1c" stroke="#f8ea1c" stroke-width="0.35" stroke-linejoin="round"/>
<polygon points="460.79,71.83 468.14,64.27 462.51,62.63 455.16,70.59" fill="#fad327" stroke="#fad327" stroke-width="0.35" stroke-linejoin="round"/>
<polygon points="414.48,100.73 421.83,90.06 416.19,87.27 408.84,96.39" fill="#55c187" stroke="#55c187" stroke-width="0.35" stroke-linejoin="round"/>
<polygon points="368.16,131.46 375.51,123.56 369.87,118.58 362.52,126.29" fill="#2088ed" stroke="#2088ed" stroke-width="0.35" stroke-linejoin="round"/>
<polygon points="520.10,59.53 527.45,55.06 521.81,52.87 514.46,59.06" fill="#f7ec1b" stroke="#f7ec1b" stroke-width="0.35" stroke-linejoin="round"/>
<polygon points="473.78,63.41 481.13,58.84 475.49,58.20 468.14,64.27" fill="#f9dd22" stroke="#f9dd22" stroke-width="0.35" stroke-linejoin="round"/>
<polygon points="427.47,95.31 434.82,86.77 429.18,82.74 421.83,90.06" fill="#c2be42" stroke="#c2be42" stroke-width="0.35" stroke-linejoin="round"/>
<polygon points="381.15,128.77 388.50,116.83 382.86,113.39 375.51,123.56" fill="#1b97e8" stroke="#1b97e8" stroke-width="0.35" stroke-linejoin="round"/>
<polygon points="334.83,126.16 342.18,127.66 336.54,126.24 329.19,126.38" fill="#3660ed" stroke="#3660ed" stroke-width="0.35" stroke-linejoin="round"/>
<polygon points="486.77,59.27 494.12,59.52 488.48,57.25 481.13,58.84" fill="#f8e51f" stroke="#f8e51f" stroke-width="0.35" stroke-linejoin="round"/>
<polygon points="440.46,89.29 447.81,79.93 442.17,78.01 434.82,86.77" fill="#ecb738" stroke="#ecb738" stroke-width="0.35" stroke-linejoin="round"/>
<polygon points="394.14,119.20 401.49,108.73 395.85,103.71 388.50,116.83" fill="#11afcd" stroke="#11afcd" stroke-width="0.35" stroke-linejoin="round"/>
<polygon points="347.82,130.65 355.17,129.53 349.53,126.14 342.18,127.66" fill="#2d6fef" stroke="#2d6fef" stroke-width="0.35" stroke-linejoin="round"/>
<polygon points="499.76,61.89 507.11,61.72 501.47,58.89 494.12,59.52" fill="#f8e81d" stroke="#f8e81d" stroke-width="0.35" stroke-linejoin="round"/>
<polygon points="453.44,80.54 460.79,71.83 455.16,70.59 447.81,79.93" fill="#fabc32" stroke="#fabc32" stroke-width="0.35" stroke-linejoin="round"/>
<polygon points="407.13,113.50 414.48,100.73 408.84,96.39 401.49,108.73" fill="#33bda0" stroke="#33bda0" stroke-width="0.35" stroke-linejoin="round"/>
<polygon points="360.81,135.76 368.16,131.46 362.52,126.29 355.17,129.53" fill="#267bf0" stroke="#267bf0" stroke-width="0.35" stroke-linejoin="round"/>
<polygon points="512.75,62.33 520.10,59.53 514.46,59.06 507.11,61.72" fill="#f8ea1c" stroke="#f8ea1c" stroke-width="0.35" stroke-linejoin="round"/>
<polygon points="466.43,71.69 473.78,63.41 468.14,64.27 460.79,71.83" fill="#fbcc29" stroke="#fbcc29" stroke-width="0.35" stroke-linejoin="round"/>
<polygon points="420.12,104.60 427.47,95.31 421.83,90.06 414.48,100.73" fill="#6fc376" stroke="#6fc376" stroke-width="0.35" stroke-linejoin="round"/>
<polygon points="373.80,137.96 381.15,128.77 375.51,123.56 368.16,131.46" fill="#2187ed" stroke="#2187ed" stroke-width="0.35" stroke-linejoin="round"/>
<polygon points="479.42,61.52 486.77,59.27 481.13,58.84 473.78,63.41" fill="#f9dc23" stroke="#f9dc23" stroke-width="0.35" stroke-linejoin="round"/>
<polygon points="433.11,98.82 440.46,89.29 434.82,86.77 427.47,95.31" fill="#a5c252" stroke="#a5c252" stroke-width="0.35" stroke-linejoin="round"/>
<polygon points="386.79,132.78 394.14,119.20 388.50,116.83 381.15,128.77" fill="#17a0e2" stroke="#17a0e2" stroke-width="0.35" stroke-linejoin="round"/>
<polygon points="492.41,60.94 499.76,61.89 494.12,59.52 486.77,59.27" fill="#f8e51f" stroke="#f8e51f" stroke-width="0.35" stroke-linejoin="round"/>
<polygon points="446.09,89.69 453.44,80.54 447.81,79.93 440.46,89.29" fill="#ccbd3f" stroke="#ccbd3f" stroke-width="0.35" stroke-linejoin="round"/>
<polygon points="399.78,123.42 407.13,113.50 401.49,108.73 394.14,119.20" fill="#21b9b0" stroke="#21b9b0" stroke-width="0.35" stroke-linejoin="round"/>
<polygon points="353.46,133.39 360.81,135.76 355.17,129.53 347.82,130.65" fill="#2a74ef" stroke="#2a74ef" stroke-width="0.35" stroke-linejoin="round"/>
<polygon points="505.40,63.69 512.75,62.33 507.11,61.72 499.76,61.89" fill="#f8e91c" stroke="#f8e91c" stroke-width="0.35" stroke-linejoin="round"/>
<polygon points="459.08,79.14 466.43,71.69 460.79,71.83 453.44,80.54" fill="#f9b934" stroke="#f9b934" stroke-width="0.35" stroke-linejoin="round"/>
<polygon points="412.77,119.74 420.12,104.60 414.48,100.73 407.13,113.50" fill="#52c189" stroke="#52c189" stroke-width="0.35" stroke-linejoin="round"/>
<polygon points="366.45,138.01 373.80,137.96 368.16,131.46 360.81,135.76" fill="#257cf0" stroke="#257cf0" stroke-width="0.35" stroke-linejoin="round"/>
<polygon points="472.07,69.29 479.42,61.52 473.78,63.41 466.43,71.69" fill="#fbce28" stroke="#fbce28" stroke-width="0.35" stroke-linejoin="round"/>
<polygon points="425.76,107.95 433.11,98.82 427.47,95.31 420.12,104.60" fill="#64c27d" stroke="#64c27d" stroke-width="0.35" stroke-linejoin="round"/>
<polygon points="379.44,137.41 386.79,132.78 381.15,128.77 373.80,137.96" fill="#208aed" stroke="#208aed" stroke-width="0.35" stroke-linejoin="round"/>
<polygon points="485.06,60.61 492.41,60.94 486.77,59.27 479.42,61.52" fill="#f9de21" stroke="#f9de21" stroke-width="0.35" stroke-linejoin="round"/>
<polygon points="438.74,99.07 446.09,89.69 440.46,89.29 433.11,98.82" fill="#89c465" stroke="#89c465" stroke-width="0.35" stroke-linejoin="round"/>
<polygon points="392.43,128.00 399.78,123.42 394.14,119.20 386.79,132.78" fill="#11afce" stroke="#11afce" stroke-width="0.35" stroke-linejoin="round"/>
<polygon points="498.05,62.84 505.40,63.69 499.76,61.89 492.41,60.94" fill="#f8e71d" stroke="#f8e71d" stroke-width="0.35" stroke-linejoin="round"/>
<polygon points="451.73,88.93 459.08,79.14 453.44,80.54 446.09,89.69" fill="#cbbd3f" stroke="#cbbd3f" stroke-width="0.35" stroke-linejoin="round"/>
<polygon points="405.42,122.38 412.77,119.74 407.13,113.50 399.78,123.42" fill="#41bf96" stroke="#41bf96" stroke-width="0.35" stroke-linejoin="round"/>
<polygon points="359.10,135.75 366.45,138.01 360.81,135.76 353.46,133.39" fill="#2778f0" stroke="#2778f0" stroke-width="0.35" stroke-linejoin="round"/>
<polygon points="464.72,77.92 472.07,69.29 466.43,71.69 459.08,79.14" fill="#fabf30" stroke="#fabf30" stroke-width="0.35" stroke-linejoin="round"/>
<polygon points="418.41,114.95 425.76,107.95 420.12,104.60 412.77,119.74" fill="#51c18a" stroke="#51c18a" stroke-width="0.35" stroke-linejoin="round"/>
<polygon points="372.09,138.90 379.44,137.41 373.80,137.96 366.45,138.01" fill="#257def" stroke="#257def" stroke-width="0.35" stroke-linejoin="round"/>
<polygon points="477.71,64.07 485.06,60.61 479.42,61.52 472.07,69.29" fill="#fad426" stroke="#fad426" stroke-width="0.35" stroke-linejoin="round"/>
<polygon points="431.39,105.13 438.74,99.07 433.11,98.82 425.76,107.95" fill="#5fc280" stroke="#5fc280" stroke-width="0.35" stroke-linejoin="round"/>
<polygon points="385.08,135.01 392.43,128.00 386.79,132.78 379.44,137.41" fill="#1a99e6" stroke="#1a99e6" stroke-width="0.35" stroke-linejoin="round"/>
<polygon points="490.70,61.42 498.05,62.84 492.41,60.94 485.06,60.61" fill="#f8e220" stroke="#f8e220" stroke-width="0.35" stroke-linejoin="round"/>
<polygon points="444.38,95.19 451.73,88.93 446.09,89.69 438.74,99.07" fill="#8fc361" stroke="#8fc361" stroke-width="0.35" stroke-linejoin="round"/>
<polygon points="398.07,124.93 405.42,122.38 399.78,123.42 392.43,128.00" fill="#1fb9b2" stroke="#1fb9b2" stroke-width="0.35" stroke-linejoin="round"/>
<polygon points="457.37,83.38 464.72,77.92 459.08,79.14 451.73,88.93" fill="#e5b83a" stroke="#e5b83a" stroke-width="0.35" stroke-linejoin="round"/>
<polygon points="411.06,121.29 418.41,114.95 412.77,119.74 405.42,122.38" fill="#50c18b" stroke="#50c18b" stroke-width="0.35" stroke-linejoin="round"/>
<polygon points="470.36,74.07 477.71,64.07 472.07,69.29 464.72,77.92" fill="#fcc72b" stroke="#fcc72b" stroke-width="0.35" stroke-linejoin="round"/>
<polygon points="424.04,109.80 431.39,105.13 425.76,107.95 418.41,114.95" fill="#4dc08d" stroke="#4dc08d" stroke-width="0.35" stroke-linejoin="round"/>
<polygon points="483.35,61.61 490.70,61.42 485.06,60.61 477.71,64.07" fill="#f9db23" stroke="#f9db23" stroke-width="0.35" stroke-linejoin="round"/>
<polygon points="437.03,100.92 444.38,95.19 438.74,99.07 431.39,105.13" fill="#6ac379" stroke="#6ac379" stroke-width="0.35" stroke-linejoin="round"/>
<polygon points="450.02,90.84 457.37,83.38 451.73,88.93 444.38,95.19" fill="#aec14d" stroke="#aec14d" stroke-width="0.35" stroke-linejoin="round"/>
<polygon points="463.01,79.11 470.36,74.07 464.72,77.92 457.37,83.38" fill="#f8b735" stroke="#f8b735" stroke-width="0.35" stroke-linejoin="round"/>
<polygon points="476.00,65.81 483.35,61.61 477.71,64.07 470.36,74.07" fill="#fad127" stroke="#fad127" stroke-width="0.35" stroke-linejoin="round"/>
<path d="M329.19 126.38L336.54 126.24M323.56 128.23L330.91 125.63M317.92 130.25L325.27 126.93M312.28 131.96L319.63 128.56M306.64 132.68L313.99 130.49M353.46 133.39L360.81 135.76M347.82 130.65L355.17 129.53M342.18 127.66L349.53 126.14M342.18 127.66L336.54 126.24M336.54 126.24L343.89 123.13M336.54 126.24L330.91 125.63M330.91 125.63L338.26 122.01M330.91 125.63L325.27 126.93M325.27 126.93L332.62 123.04M325.27 126.93L319.63 128.56M319.63 128.56L326.98 124.92M319.63 128.56L313.99 130.49M313.99 130.49L321.34 126.53M313.99 130.49L308.35 130.45M366.45 138.01L373.80 137.96M366.45 138.01L360.81 135.76M360.81 135.76L368.16 131.46M360.81 135.76L355.17 129.53M355.17 129.53L362.52 126.29M355.17 129.53L349.53 126.14M349.53 126.14L356.88 121.23M349.53 126.14L343.89 123.13M343.89 123.13L351.24 118.57M343.89 123.13L338.26 122.01M338.26 122.01L345.61 118.56M338.26 122.01L332.62 123.04M332.62 123.04L339.97 119.51M332.62 123.04L326.98 124.92M326.98 124.92L334.33 120.80M326.98 124.92L321.34 126.53M321.34 126.53L328.69 121.94M321.34 126.53L315.70 127.41M379.44 137.41L386.79 132.78M379.44 137.41L373.80 137.96M373.80 137.96L381.15 128.77M373.80 137.96L368.16 131.46M368.16 131.46L375.51 123.56M368.16 131.46L362.52 126.29M362.52 126.29L369.87 118.58M362.52 126.29L356.88 121.23M356.88 121.23L364.23 117.98M356.88 121.23L351.24 118.57M351.24 118.57L358.59 116.63M351.24 118.57L345.61 118.56M345.61 118.56L352.96 115.62M345.61 118.56L339.97 119.51M339.97 119.51L347.32 115.53M339.97 119.51L334.33 120.80M334.33 120.80L341.68 115.21M334.33 120.80L328.69 121.94M328.69 121.94L336.04 114.82M328.69 121.94L323.05 123.77M392.43 128.00L399.78 123.42M392.43 128.00L386.79 132.78M386.79 132.78L394.14 119.20M386.79 132.78L381.15 128.77M381.15 128.77L388.50 116.83M381.15 128.77L375.51 123.56M375.51 123.56L382.86 113.39M375.51 123.56L369.87 118.58M369.87 118.58L377.22 110.85M369.87 118.58L364.23 117.98M364.23 117.98L371.58 110.13M364.23 117.98L358.59 116.63M358.59 116.63L365.94 111.64M358.59 116.63L352.96 115.62M352.96 115.62L360.31 112.30M352.96 115.62L347.32 115.53M347.32 115.53L354.67 111.05M347.32 115.53L341.68 115.21M341.68 115.21L349.03 109.30M341.68 115.21L336.04 114.82M336.04 114.82L343.39 107.43M336.04 114.82L330.40 119.23M405.42 122.38L412.77 119.74M405.42 122.38L399.78 123.42M399.78 123.42L407.13 113.50M399.78 123.42L394.14 119.20M394.14 119.20L401.49 108.73M394.14 119.20L388.50 116.83M388.50 116.83L395.85 103.71M388.50 116.83L382.86 113.39M382.86 113.39L390.21 103.12M382.86 113.39L377.22 110.85M377.22 110.85L384.57 104.10M377.22 110.85L371.58 110.13M371.58 110.13L378.93 103.43M371.58 110.13L365.94 111.64M365.94 111.64L373.29 102.72M365.94 111.64L360.31 112.30M360.31 112.30L367.66 103.74M360.31 112.30L354.67 111.05M354.67 111.05L362.02 106.15M354.67 111.05L349.03 109.30M349.03 109.30L356.38 104.33M349.03 109.30L343.39 107.43M343.39 107.43L350.74 103.14M343.39 107.43L337.75 111.67M418.41 114.95L425.76 107.95M418.41 114.95L412.77 119.74M412.77 119.74L420.12 104.60M412.77 119.74L407.13 113.50M407.13 113.50L414.48 100.73M407.13 113.50L401.49 108.73M401.49 108.73L408.84 96.39M401.49 108.73L395.85 103.71M395.85 103.71L403.20 95.25M395.85 103.71L390.21 103.12M390.21 103.12L397.56 95.34M390.21 103.12L384.57 104.10M384.57 104.10L391.92 95.81M384.57 104.10L378.93 103.43M378.93 103.43L386.28 96.10M378.93 103.43L373.29 102.72M373.29 102.72L380.64 94.70M373.29 102.72L367.66 103.74M367.66 103.74L375.01 94.56M367.66 103.74L362.02 106.15M362.02 106.15L369.37 97.00M362.02 106.15L356.38 104.33M356.38 104.33L363.73 99.32M356.38 104.33L350.74 103.14M431.39 105.13L438.74 99.07M431.39 105.13L425.76 107.95M425.76 107.95L433.11 98.82M425.76 107.95L420.12 104.60M420.12 104.60L427.47 95.31M420.12 104.60L414.48 100.73M414.48 100.73L421.83 90.06M414.48 100.73L408.84 96.39M408.84 96.39L416.19 87.27M408.84 96.39L403.20 95.25M403.20 95.25L410.55 87.57M403.20 95.25L397.56 95.34M397.56 95.34L404.91 88.55M397.56 95.34L391.92 95.81M391.92 95.81L399.27 88.48M391.92 95.81L386.28 96.10M386.28 96.10L393.63 86.44M386.28 96.10L380.64 94.70M380.64 94.70L387.99 87.08M380.64 94.70L375.01 94.56M375.01 94.56L382.36 90.10M375.01 94.56L369.37 97.00M369.37 97.00L376.72 91.55M369.37 97.00L363.73 99.32M363.73 99.32L371.08 92.60M363.73 99.32L358.09 99.46M444.38 95.19L451.73 88.93M444.38 95.19L438.74 99.07M438.74 99.07L446.09 89.69M438.74 99.07L433.11 98.82M433.11 98.82L440.46 89.29M433.11 98.82L427.47 95.31M427.47 95.31L434.82 86.77M427.47 95.31L421.83 90.06M421.83 90.06L429.18 82.74M421.83 90.06L416.19 87.27M416.19 87.27L423.54 80.60M416.19 87.27L410.55 87.57M410.55 87.57L417.90 80.88M410.55 87.57L404.91 88.55M404.91 88.55L412.26 80.16M404.91 88.55L399.27 88.48M399.27 88.48L406.62 78.39M399.27 88.48L393.63 86.44M393.63 86.44L400.98 78.15M393.63 86.44L387.99 87.08M387.99 87.08L395.34 81.24M387.99 87.08L382.36 90.10M382.36 90.10L389.71 84.85M382.36 90.10L376.72 91.55M376.72 91.55L384.07 87.76M376.72 91.55L371.08 92.60M371.08 92.60L378.43 89.76M371.08 92.60L365.44 95.56M457.37 83.38L464.72 77.92M457.37 83.38L451.73 88.93M451.73 88.93L459.08 79.14M451.73 88.93L446.09 89.69M446.09 89.69L453.44 80.54M446.09 89.69L440.46 89.29M440.46 89.29L447.81 79.93M440.46 89.29L434.82 86.77M434.82 86.77L442.17 78.01M434.82 86.77L429.18 82.74M429.18 82.74L436.53 74.14M429.18 82.74L423.54 80.60M423.54 80.60L430.89 73.68M423.54 80.60L417.90 80.88M417.90 80.88L425.25 74.66M417.90 80.88L412.26 80.16M412.26 80.16L419.61 72.91M412.26 80.16L406.62 78.39M406.62 78.39L413.97 69.14M406.62 78.39L400.98 78.15M400.98 78.15L408.33 71.30M400.98 78.15L395.34 81.24M395.34 81.24L402.69 74.99M395.34 81.24L389.71 84.85M389.71 84.85L397.06 78.91M389.71 84.85L384.07 87.76M384.07 87.76L391.42 82.98M384.07 87.76L378.43 89.76M470.36 74.07L477.71 64.07M470.36 74.07L464.72 77.92M464.72 77.92L472.07 69.29M464.72 77.92L459.08 79.14M459.08 79.14L466.43 71.69M459.08 79.14L453.44 80.54M453.44 80.54L460.79 71.83M453.44 80.54L447.81 79.93M447.81 79.93L455.16 70.59M447.81 79.93L442.17 78.01M442.17 78.01L449.52 68.33M442.17 78.01L436.53 74.14M436.53 74.14L443.88 67.13M436.53 74.14L430.89 73.68M430.89 73.68L438.24 66.71M430.89 73.68L425.25 74.66M425.25 74.66L432.60 67.61M425.25 74.66L419.61 72.91M419.61 72.91L426.96 66.10M419.61 72.91L413.97 69.14M413.97 69.14L421.32 62.28M413.97 69.14L408.33 71.30M408.33 71.30L415.68 63.45M408.33 71.30L402.69 74.99M402.69 74.99L410.04 67.90M402.69 74.99L397.06 78.91M397.06 78.91L404.41 72.92M397.06 78.91L391.42 82.98M483.35 61.61L477.71 64.07M477.71 64.07L485.06 60.61M477.71 64.07L472.07 69.29M472.07 69.29L479.42 61.52M472.07 69.29L466.43 71.69M466.43 71.69L473.78 63.41M466.43 71.69L460.79 71.83M460.79 71.83L468.14 64.27M460.79 71.83L455.16 70.59M455.16 70.59L462.51 62.63M455.16 70.59L449.52 68.33M449.52 68.33L456.87 61.66M449.52 68.33L443.88 67.13M443.88 67.13L451.23 60.63M443.88 67.13L438.24 66.71M438.24 66.71L445.59 60.71M438.24 66.71L432.60 67.61M432.60 67.61L439.95 60.09M432.60 67.61L426.96 66.10M426.96 66.10L434.31 56.83M426.96 66.10L421.32 62.28M421.32 62.28L428.67 54.16M421.32 62.28L415.68 63.45M415.68 63.45L423.03 53.88M415.68 63.45L410.04 67.90M410.04 67.90L417.39 59.08M410.04 67.90L404.41 72.92M490.70 61.42L485.06 60.61M485.06 60.61L492.41 60.94M485.06 60.61L479.42 61.52M479.42 61.52L486.77 59.27M479.42 61.52L473.78 63.41M473.78 63.41L481.13 58.84M473.78 63.41L468.14 64.27M468.14 64.27L475.49 58.20M468.14 64.27L462.51 62.63M462.51 62.63L469.86 57.29M462.51 62.63L456.87 61.66M456.87 61.66L464.22 56.13M456.87 61.66L451.23 60.63M451.23 60.63L458.58 55.89M451.23 60.63L445.59 60.71M445.59 60.71L452.94 54.35M445.59 60.71L439.95 60.09M439.95 60.09L447.30 51.51M439.95 60.09L434.31 56.83M434.31 56.83L441.66 51.00M434.31 56.83L428.67 54.16M428.67 54.16L436.02 49.00M428.67 54.16L423.03 53.88M423.03 53.88L430.38 48.94M423.03 53.88L417.39 59.08M498.05 62.84L492.41 60.94M492.41 60.94L499.76 61.89M492.41 60.94L486.77 59.27M486.77 59.27L494.12 59.52M486.77 59.27L481.13 58.84M481.13 58.84L488.48 57.25M481.13 58.84L475.49 58.20M475.49 58.20L482.84 55.66M475.49 58.20L469.86 57.29M469.86 57.29L477.21 53.72M469.86 57.29L464.22 56.13M464.22 56.13L471.57 52.01M464.22 56.13L458.58 55.89M458.58 55.89L465.93 49.98M458.58 55.89L452.94 54.35M452.94 54.35L460.29 46.83M452.94 54.35L447.30 51.51M447.30 51.51L454.65 45.44M447.30 51.51L441.66 51.00M441.66 51.00L449.01 46.23M441.66 51.00L436.02 49.00M436.02 49.00L443.37 48.83M436.02 49.00L430.38 48.94M505.40 63.69L499.76 61.89M499.76 61.89L507.11 61.72M499.76 61.89L494.12 59.52M494.12 59.52L501.47 58.89M494.12 59.52L488.48 57.25M488.48 57.25L495.83 56.75M488.48 57.25L482.84 55.66M482.84 55.66L490.19 54.69M482.84 55.66L477.21 53.72M477.21 53.72L484.56 52.43M477.21 53.72L471.57 52.01M471.57 52.01L478.92 49.01M471.57 52.01L465.93 49.98M465.93 49.98L473.28 45.06M465.93 49.98L460.29 46.83M460.29 46.83L467.64 41.64M460.29 46.83L454.65 45.44M454.65 45.44L462.00 40.67M454.65 45.44L449.01 46.23M449.01 46.23L456.36 42.43M449.01 46.23L443.37 48.83M512.75 62.33L507.11 61.72M507.11 61.72L514.46 59.06M507.11 61.72L501.47 58.89M501.47 58.89L508.82 56.22M501.47 58.89L495.83 56.75M495.83 56.75L503.18 54.36M495.83 56.75L490.19 54.69M490.19 54.69L497.54 53.71M490.19 54.69L484.56 52.43M484.56 52.43L491.91 52.25M484.56 52.43L478.92 49.01M478.92 49.01L486.27 48.62M478.92 49.01L473.28 45.06M473.28 45.06L480.63 44.62M473.28 45.06L467.64 41.64M467.64 41.64L474.99 40.65M467.64 41.64L462.00 40.67M462.00 40.67L469.35 39.01M462.00 40.67L456.36 42.43M520.10 59.53L514.46 59.06M514.46 59.06L521.81 52.87M514.46 59.06L508.82 56.22M508.82 56.22L516.17 51.34M508.82 56.22L503.18 54.36M503.18 54.36L510.53 50.00M503.18 54.36L497.54 53.71M497.54 53.71L504.89 49.61M497.54 53.71L491.91 52.25M491.91 52.25L499.26 50.28M491.91 52.25L486.27 48.62M486.27 48.62L493.62 49.92M486.27 48.62L480.63 44.62M480.63 44.62L487.98 46.14M480.63 44.62L474.99 40.65M474.99 40.65L482.34 43.31M474.99 40.65L469.35 39.01M527.45 55.06L521.81 52.87M521.81 52.87L529.16 47.57M521.81 52.87L516.17 51.34M516.17 51.34L523.52 45.53M516.17 51.34L510.53 50.00M510.53 50.00L517.88 45.70M510.53 50.00L504.89 49.61M504.89 49.61L512.24 46.19M504.89 49.61L499.26 50.28M499.26 50.28L506.61 47.19M499.26 50.28L493.62 49.92M493.62 49.92L500.97 48.58M493.62 49.92L487.98 46.14M487.98 46.14L495.33 49.46M487.98 46.14L482.34 43.31" fill="none" stroke="#1a1a1a" stroke-width="0.45" stroke-opacity="0.8" stroke-linecap="round"/>
<path d="M301.00 133.00 L302.96 132.37 L304.92 131.71 L306.87 131.00 L308.83 130.26 L310.79 129.49 L312.75 128.69 L314.71 127.85 L316.66 126.98 L318.62 126.05 L320.58 125.08 L322.54 124.05 L324.50 122.97 L326.45 121.83 L328.41 120.61 L330.37 119.25 L332.33 117.73 L334.29 115.73 L336.24 113.42 L338.20 111.18 L340.16 109.38 L342.12 107.98 L344.08 106.75 L346.03 105.64 L347.99 104.59 L349.95 103.56 L351.91 102.52 L353.87 101.52 L355.82 100.55 L357.78 99.61 L359.74 98.65 L361.70 97.66 L363.66 96.59 L365.61 95.46 L367.57 94.31 L369.53 93.21 L371.49 92.23 L373.45 91.41 L375.40 90.72 L377.36 90.10 L379.32 89.48 L381.28 88.82 L383.24 88.04 L385.19 87.10 L387.15 85.94 L389.11 84.64 L391.07 83.24 L393.03 81.81 L394.98 80.39 L396.94 78.94 L398.90 77.43 L400.86 75.88 L402.82 74.27 L404.77 72.60 L406.73 70.87 L408.69 69.09 L410.65 67.21 L412.61 65.21 L414.56 63.03 L416.52 60.33 L418.48 57.62 L420.44 55.63 L422.39 54.00 L424.35 52.43 L426.31 51.02 L428.27 49.84 L430.23 48.99 L432.18 48.54 L434.14 48.52 L436.10 48.64 L438.06 48.80 L440.02 48.94 L441.97 49.00 L443.93 48.67 L445.89 47.83 L447.85 46.72 L449.81 45.59 L451.76 44.65 L453.72 43.70 L455.68 42.75 L457.64 41.86 L459.60 41.12 L461.55 40.53 L463.51 39.94 L465.47 39.43 L467.43 39.09 L469.39 39.01 L471.34 39.27 L473.30 39.80 L475.26 40.49 L477.22 41.22 L479.18 41.93 L481.13 42.76 L483.09 43.66 L485.05 44.60 L487.01 45.50 L488.97 46.52 L490.92 47.67 L492.88 48.71 L494.84 49.38 L496.80 49.47 L498.76 49.16 L500.71 48.65 L502.67 48.08 L504.63 47.57 L506.59 47.19 L508.55 46.81 L510.50 46.45 L512.46 46.16 L514.42 45.97 L516.38 45.81 L518.34 45.67 L520.29 45.56 L522.25 45.51 L524.21 45.63 L526.17 46.27 L528.13 47.13 L530.08 47.96 L532.04 48.92 L534.00 50.00" fill="none" stroke="#1a1a1a" stroke-width="0.5" stroke-opacity="0.8"/>
<path d="M301.00 133.00 L302.96 132.96 L304.92 132.84 L306.87 132.66 L308.83 132.43 L310.79 132.17 L312.75 131.87 L314.71 131.38 L316.66 130.72 L318.62 129.97 L320.58 129.22 L322.54 128.54 L324.50 127.92 L326.45 127.23 L328.41 126.59 L330.37 126.14 L332.33 126.00 L334.29 126.11 L336.24 126.34 L338.20 126.66 L340.16 127.03 L342.12 127.64 L344.08 128.54 L346.03 129.62 L347.99 130.75 L349.95 131.81 L351.91 132.70 L353.87 133.57 L355.82 134.43 L357.78 135.24 L359.74 135.98 L361.70 136.61 L363.66 137.19 L365.61 137.77 L367.57 138.30 L369.53 138.69 L371.49 138.89 L373.45 138.83 L375.40 138.55 L377.36 138.08 L379.32 137.45 L381.28 136.72 L383.24 135.92 L385.19 134.93 L387.15 133.30 L389.11 131.29 L391.07 129.26 L393.03 127.53 L394.98 126.37 L396.94 125.42 L398.90 124.58 L400.86 123.84 L402.82 123.17 L404.77 122.57 L406.73 122.08 L408.69 121.72 L410.65 121.37 L412.61 120.89 L414.56 120.07 L416.52 117.79 L418.48 114.85 L420.44 112.61 L422.39 111.00 L424.35 109.59 L426.31 108.32 L428.27 107.11 L430.23 105.89 L432.18 104.58 L434.14 103.15 L436.10 101.65 L438.06 100.11 L440.02 98.56 L441.97 97.02 L443.93 95.53 L445.89 94.07 L447.85 92.58 L449.81 91.02 L451.76 89.30 L453.72 87.30 L455.68 85.17 L457.64 83.11 L459.60 81.32 L461.55 79.94 L463.51 78.84 L465.47 77.81 L467.43 76.66 L469.39 75.15 L471.34 72.74 L473.30 69.73 L475.26 66.77 L477.22 64.54 L479.18 63.39 L481.13 62.46 L483.09 61.70 L485.05 61.19 L487.01 61.00 L488.97 61.13 L490.92 61.46 L492.88 61.89 L494.84 62.30 L496.80 62.62 L498.76 62.97 L500.71 63.30 L502.67 63.57 L504.63 63.70 L506.59 63.62 L508.55 63.34 L510.50 62.92 L512.46 62.41 L514.42 61.88 L516.38 61.22 L518.34 60.39 L520.29 59.43 L522.25 58.40 L524.21 57.29 L526.17 55.97 L528.13 54.59 L530.08 53.30 L532.04 52.04 L534.00 50.80" fill="none" stroke="#1a1a1a" stroke-width="0.5" stroke-opacity="0.8"/>
<line x1="301.00" y1="132.70" x2="301.00" y2="38.00" stroke="#878787" stroke-width="0.7"/>
<line x1="301.00" y1="132.70" x2="402.50" y2="176.00" stroke="#878787" stroke-width="0.7"/>
<line x1="402.50" y1="176.00" x2="534.80" y2="142.60" stroke="#878787" stroke-width="0.7"/>
<line x1="301.00" y1="121.72" x2="298.80" y2="121.72" stroke="#878787" stroke-width="0.6"/>
<line x1="301.00" y1="106.87" x2="298.80" y2="106.87" stroke="#878787" stroke-width="0.6"/>
<line x1="301.00" y1="92.03" x2="298.80" y2="92.03" stroke="#878787" stroke-width="0.6"/>
<line x1="301.00" y1="77.19" x2="298.80" y2="77.19" stroke="#878787" stroke-width="0.6"/>
<line x1="301.00" y1="62.34" x2="298.80" y2="62.34" stroke="#878787" stroke-width="0.6"/>
<line x1="301.00" y1="47.50" x2="298.80" y2="47.50" stroke="#878787" stroke-width="0.6"/>
<line x1="402.50" y1="176.00" x2="405.26" y2="177.18" stroke="#878787" stroke-width="0.6"/>
<line x1="435.57" y1="167.65" x2="438.33" y2="168.83" stroke="#878787" stroke-width="0.6"/>
<line x1="468.65" y1="159.30" x2="471.41" y2="160.48" stroke="#878787" stroke-width="0.6"/>
<line x1="501.72" y1="150.95" x2="504.48" y2="152.13" stroke="#878787" stroke-width="0.6"/>
<line x1="534.80" y1="142.60" x2="537.56" y2="143.78" stroke="#878787" stroke-width="0.6"/>
<line x1="388.00" y1="169.81" x2="385.09" y2="170.55" stroke="#878787" stroke-width="0.6"/>
<line x1="359.00" y1="157.44" x2="356.09" y2="158.18" stroke="#878787" stroke-width="0.6"/>
<line x1="330.00" y1="145.07" x2="327.09" y2="145.81" stroke="#878787" stroke-width="0.6"/>
<line x1="301.00" y1="132.70" x2="298.09" y2="133.43" stroke="#878787" stroke-width="0.6"/>
<text x="320.90" y="11.60" class="tg" font-size="10" font-weight="bold" fill="#e0202a" text-anchor="middle" dominant-baseline="central" textLength="10" lengthAdjust="spacingAndGlyphs">[b]</text>
<text transform="translate(280.20,86.00) rotate(-90)" font-size="7.4" text-anchor="middle" dominant-baseline="central">Power density W/m2</text>
<text x="296.00" y="121.70" font-size="6.9" text-anchor="end" dominant-baseline="central">350</text>
<text x="296.00" y="106.80" font-size="6.9" text-anchor="end" dominant-baseline="central">400</text>
<text x="296.00" y="91.80" font-size="6.9" text-anchor="end" dominant-baseline="central">450</text>
<text x="296.00" y="76.90" font-size="6.9" text-anchor="end" dominant-baseline="central">500</text>
<text x="296.00" y="62.30" font-size="6.9" text-anchor="end" dominant-baseline="central">550</text>
<text x="296.00" y="47.40" font-size="6.9" text-anchor="end" dominant-baseline="central">600</text>
<text x="293.70" y="138.40" font-size="6.9" text-anchor="middle" dominant-baseline="central">1</text>
<text x="318.80" y="149.50" font-size="6.9" text-anchor="middle" dominant-baseline="central">0.8</text>
<text x="346.90" y="161.90" font-size="6.9" text-anchor="middle" dominant-baseline="central">0.6</text>
<text x="374.80" y="174.00" font-size="6.9" text-anchor="middle" dominant-baseline="central">0.4</text>
<text x="410.90" y="182.40" font-size="6.9" text-anchor="middle" dominant-baseline="central">0.2</text>
<text x="444.20" y="174.20" font-size="6.9" text-anchor="middle" dominant-baseline="central">0.4</text>
<text x="476.90" y="165.50" font-size="6.9" text-anchor="middle" dominant-baseline="central">0.6</text>
<text x="509.60" y="157.30" font-size="6.9" text-anchor="middle" dominant-baseline="central">0.8</text>
<text x="540.40" y="149.60" font-size="6.9" text-anchor="middle" dominant-baseline="central">1</text>
<text x="325.00" y="175.00" font-size="7.4" text-anchor="middle" dominant-baseline="central">Normalized membrane</text>
<text x="323.60" y="183.80" font-size="7.4" text-anchor="middle" dominant-baseline="central">compression</text>
<text x="485.40" y="173.60" font-size="7.4" text-anchor="middle" dominant-baseline="central">Normalized pressure</text>
<polygon points="170.40,318.50 301.30,286.30 301.30,190.60 170.40,222.80" fill="#ffffff"/>
<polygon points="301.30,286.30 403.20,329.60 403.20,233.90 301.30,190.60" fill="#ffffff"/>
<polygon points="170.40,318.50 272.30,361.80 403.20,329.60 301.30,286.30" fill="#ffffff"/>
<line x1="272.30" y1="361.80" x2="170.40" y2="318.50" stroke="#e9e9e9" stroke-width="0.6"/>
<line x1="170.40" y1="318.50" x2="170.40" y2="222.80" stroke="#e9e9e9" stroke-width="0.6"/>
<line x1="292.44" y1="356.85" x2="190.54" y2="313.55" stroke="#e9e9e9" stroke-width="0.6"/>
<line x1="190.54" y1="313.55" x2="190.54" y2="217.85" stroke="#e9e9e9" stroke-width="0.6"/>
<line x1="312.58" y1="351.89" x2="210.68" y2="308.59" stroke="#e9e9e9" stroke-width="0.6"/>
<line x1="210.68" y1="308.59" x2="210.68" y2="212.89" stroke="#e9e9e9" stroke-width="0.6"/>
<line x1="332.72" y1="346.94" x2="230.82" y2="303.64" stroke="#e9e9e9" stroke-width="0.6"/>
<line x1="230.82" y1="303.64" x2="230.82" y2="207.94" stroke="#e9e9e9" stroke-width="0.6"/>
<line x1="352.85" y1="341.98" x2="250.95" y2="298.68" stroke="#e9e9e9" stroke-width="0.6"/>
<line x1="250.95" y1="298.68" x2="250.95" y2="202.98" stroke="#e9e9e9" stroke-width="0.6"/>
<line x1="372.99" y1="337.03" x2="271.09" y2="293.73" stroke="#e9e9e9" stroke-width="0.6"/>
<line x1="271.09" y1="293.73" x2="271.09" y2="198.03" stroke="#e9e9e9" stroke-width="0.6"/>
<line x1="393.13" y1="332.08" x2="291.23" y2="288.78" stroke="#e9e9e9" stroke-width="0.6"/>
<line x1="291.23" y1="288.78" x2="291.23" y2="193.08" stroke="#e9e9e9" stroke-width="0.6"/>
<line x1="257.74" y1="355.61" x2="388.64" y2="323.41" stroke="#e9e9e9" stroke-width="0.6"/>
<line x1="388.64" y1="323.41" x2="388.64" y2="227.71" stroke="#e9e9e9" stroke-width="0.6"/>
<line x1="228.63" y1="343.24" x2="359.53" y2="311.04" stroke="#e9e9e9" stroke-width="0.6"/>
<line x1="359.53" y1="311.04" x2="359.53" y2="215.34" stroke="#e9e9e9" stroke-width="0.6"/>
<line x1="199.51" y1="330.87" x2="330.41" y2="298.67" stroke="#e9e9e9" stroke-width="0.6"/>
<line x1="330.41" y1="298.67" x2="330.41" y2="202.97" stroke="#e9e9e9" stroke-width="0.6"/>
<line x1="170.40" y1="318.50" x2="301.30" y2="286.30" stroke="#e9e9e9" stroke-width="0.6"/>
<line x1="301.30" y1="286.30" x2="301.30" y2="190.60" stroke="#e9e9e9" stroke-width="0.6"/>
<line x1="170.40" y1="298.55" x2="301.30" y2="266.35" stroke="#e9e9e9" stroke-width="0.6"/>
<line x1="301.30" y1="266.35" x2="403.20" y2="309.65" stroke="#e9e9e9" stroke-width="0.6"/>
<line x1="170.40" y1="273.30" x2="301.30" y2="241.10" stroke="#e9e9e9" stroke-width="0.6"/>
<line x1="301.30" y1="241.10" x2="403.20" y2="284.40" stroke="#e9e9e9" stroke-width="0.6"/>
<line x1="170.40" y1="248.05" x2="301.30" y2="215.85" stroke="#e9e9e9" stroke-width="0.6"/>
<line x1="301.30" y1="215.85" x2="403.20" y2="259.15" stroke="#e9e9e9" stroke-width="0.6"/>
<line x1="170.40" y1="222.80" x2="301.30" y2="190.60" stroke="#e9e9e9" stroke-width="0.6"/>
<line x1="301.30" y1="190.60" x2="403.20" y2="233.90" stroke="#e9e9e9" stroke-width="0.6"/>
<polygon points="230.29,280.62 237.99,275.60 232.00,279.15 224.30,284.96" fill="#11add3" stroke="#11add3" stroke-width="0.35" stroke-linejoin="round"/>
<polygon points="243.99,272.80 251.69,269.12 245.69,271.23 237.99,275.60" fill="#18b6bb" stroke="#18b6bb" stroke-width="0.35" stroke-linejoin="round"/>
<polygon points="257.68,268.73 265.38,268.00 259.39,268.01 251.69,269.12" fill="#23baae" stroke="#23baae" stroke-width="0.35" stroke-linejoin="round"/>
<polygon points="271.38,268.61 279.08,267.58 273.08,267.95 265.38,268.00" fill="#27baab" stroke="#27baab" stroke-width="0.35" stroke-linejoin="round"/>
<polygon points="222.59,286.94 230.29,280.62 224.30,284.96 216.60,293.23" fill="#189ee4" stroke="#189ee4" stroke-width="0.35" stroke-linejoin="round"/>
<polygon points="285.07,265.41 292.77,260.69 286.78,263.35 279.08,267.58" fill="#16a1e1" stroke="#16a1e1" stroke-width="0.35" stroke-linejoin="round"/>
<polygon points="236.29,277.96 243.99,272.80 237.99,275.60 230.29,280.62" fill="#10b2c8" stroke="#10b2c8" stroke-width="0.35" stroke-linejoin="round"/>
<polygon points="298.76,260.34 306.46,260.57 300.47,259.51 292.77,260.69" fill="#1e8fec" stroke="#1e8fec" stroke-width="0.35" stroke-linejoin="round"/>
<polygon points="249.98,270.89 257.68,268.73 251.69,269.12 243.99,272.80" fill="#1bb7b6" stroke="#1bb7b6" stroke-width="0.35" stroke-linejoin="round"/>
<polygon points="312.46,260.91 320.16,254.90 314.16,259.40 306.46,260.57" fill="#3bbe9b" stroke="#3bbe9b" stroke-width="0.35" stroke-linejoin="round"/>
<polygon points="263.68,269.39 271.38,268.61 265.38,268.00 257.68,268.73" fill="#25baac" stroke="#25baac" stroke-width="0.35" stroke-linejoin="round"/>
<polygon points="326.15,251.06 333.85,245.86 327.86,249.32 320.16,254.90" fill="#75c372" stroke="#75c372" stroke-width="0.35" stroke-linejoin="round"/>
<polygon points="214.89,296.17 222.59,286.94 216.60,293.23 208.90,302.35" fill="#267bf0" stroke="#267bf0" stroke-width="0.35" stroke-linejoin="round"/>
<polygon points="277.37,269.11 285.07,265.41 279.08,267.58 271.38,268.61" fill="#18b6bb" stroke="#18b6bb" stroke-width="0.35" stroke-linejoin="round"/>
<polygon points="339.85,243.53 347.55,242.75 341.55,243.28 333.85,245.86" fill="#a1c255" stroke="#a1c255" stroke-width="0.35" stroke-linejoin="round"/>
<polygon points="228.59,283.44 236.29,277.96 230.29,280.62 222.59,286.94" fill="#12aad7" stroke="#12aad7" stroke-width="0.35" stroke-linejoin="round"/>
<polygon points="291.06,262.97 298.76,260.34 292.77,260.69 285.07,265.41" fill="#208aed" stroke="#208aed" stroke-width="0.35" stroke-linejoin="round"/>
<polygon points="242.28,275.35 249.98,270.89 243.99,272.80 236.29,277.96" fill="#15b4c0" stroke="#15b4c0" stroke-width="0.35" stroke-linejoin="round"/>
<polygon points="304.76,261.71 312.46,260.91 306.46,260.57 298.76,260.34" fill="#11b0cc" stroke="#11b0cc" stroke-width="0.35" stroke-linejoin="round"/>
<polygon points="255.98,270.47 263.68,269.39 257.68,268.73 249.98,270.89" fill="#1db8b3" stroke="#1db8b3" stroke-width="0.35" stroke-linejoin="round"/>
<polygon points="318.45,257.29 326.15,251.06 320.16,254.90 312.46,260.91" fill="#7ac46e" stroke="#7ac46e" stroke-width="0.35" stroke-linejoin="round"/>
<polygon points="207.19,304.33 214.89,296.17 208.90,302.35 201.20,306.86" fill="#404fe6" stroke="#404fe6" stroke-width="0.35" stroke-linejoin="round"/>
<polygon points="269.67,270.16 277.37,269.11 271.38,268.61 263.68,269.39" fill="#23baae" stroke="#23baae" stroke-width="0.35" stroke-linejoin="round"/>
<polygon points="332.15,247.86 339.85,243.53 333.85,245.86 326.15,251.06" fill="#93c35e" stroke="#93c35e" stroke-width="0.35" stroke-linejoin="round"/>
<polygon points="220.89,289.92 228.59,283.44 222.59,286.94 214.89,296.17" fill="#1a99e6" stroke="#1a99e6" stroke-width="0.35" stroke-linejoin="round"/>
<polygon points="283.36,268.33 291.06,262.97 285.07,265.41 277.37,269.11" fill="#12aad8" stroke="#12aad8" stroke-width="0.35" stroke-linejoin="round"/>
<polygon points="345.84,243.13 353.54,241.98 347.55,242.75 339.85,243.53" fill="#ccbd3f" stroke="#ccbd3f" stroke-width="0.35" stroke-linejoin="round"/>
<polygon points="234.58,280.52 242.28,275.35 236.29,277.96 228.59,283.44" fill="#11afcd" stroke="#11afcd" stroke-width="0.35" stroke-linejoin="round"/>
<polygon points="297.06,262.52 304.76,261.71 298.76,260.34 291.06,262.97" fill="#1d91ea" stroke="#1d91ea" stroke-width="0.35" stroke-linejoin="round"/>
<polygon points="248.28,272.97 255.98,270.47 249.98,270.89 242.28,275.35" fill="#17b6bc" stroke="#17b6bc" stroke-width="0.35" stroke-linejoin="round"/>
<polygon points="310.75,262.79 318.45,257.29 312.46,260.91 304.76,261.71" fill="#5fc280" stroke="#5fc280" stroke-width="0.35" stroke-linejoin="round"/>
<polygon points="199.49,309.18 207.19,304.33 201.20,306.86 193.50,310.92" fill="#453cd8" stroke="#453cd8" stroke-width="0.35" stroke-linejoin="round"/>
<polygon points="261.97,270.93 269.67,270.16 263.68,269.39 255.98,270.47" fill="#1eb8b2" stroke="#1eb8b2" stroke-width="0.35" stroke-linejoin="round"/>
<polygon points="324.45,253.67 332.15,247.86 326.15,251.06 318.45,257.29" fill="#aac24f" stroke="#aac24f" stroke-width="0.35" stroke-linejoin="round"/>
<polygon points="213.19,299.76 220.89,289.92 214.89,296.17 207.19,304.33" fill="#2a74ef" stroke="#2a74ef" stroke-width="0.35" stroke-linejoin="round"/>
<polygon points="275.66,270.76 283.36,268.33 277.37,269.11 269.67,270.16" fill="#1ab7b7" stroke="#1ab7b7" stroke-width="0.35" stroke-linejoin="round"/>
<polygon points="338.14,245.27 345.84,243.13 339.85,243.53 332.15,247.86" fill="#b8c048" stroke="#b8c048" stroke-width="0.35" stroke-linejoin="round"/>
<polygon points="226.88,286.31 234.58,280.52 228.59,283.44 220.89,289.92" fill="#13a8da" stroke="#13a8da" stroke-width="0.35" stroke-linejoin="round"/>
<polygon points="289.36,265.49 297.06,262.52 291.06,262.97 283.36,268.33" fill="#1b95e8" stroke="#1b95e8" stroke-width="0.35" stroke-linejoin="round"/>
<polygon points="351.84,242.72 359.54,240.89 353.54,241.98 345.84,243.13" fill="#f6b636" stroke="#f6b636" stroke-width="0.35" stroke-linejoin="round"/>
<polygon points="240.58,278.40 248.28,272.97 242.28,275.35 234.58,280.52" fill="#11b2c7" stroke="#11b2c7" stroke-width="0.35" stroke-linejoin="round"/>
<polygon points="303.05,263.33 310.75,262.79 304.76,261.71 297.06,262.52" fill="#10b1c9" stroke="#10b1c9" stroke-width="0.35" stroke-linejoin="round"/>
<polygon points="191.79,313.60 199.49,309.18 193.50,310.92 185.80,314.09" fill="#4634d1" stroke="#4634d1" stroke-width="0.35" stroke-linejoin="round"/>
<polygon points="254.27,273.24 261.97,270.93 255.98,270.47 248.28,272.97" fill="#18b6ba" stroke="#18b6ba" stroke-width="0.35" stroke-linejoin="round"/>
<polygon points="316.75,259.96 324.45,253.67 318.45,257.29 310.75,262.79" fill="#b9c047" stroke="#b9c047" stroke-width="0.35" stroke-linejoin="round"/>
<polygon points="205.49,307.30 213.19,299.76 207.19,304.33 199.49,309.18" fill="#424ce6" stroke="#424ce6" stroke-width="0.35" stroke-linejoin="round"/>
<polygon points="267.96,273.05 275.66,270.76 269.67,270.16 261.97,270.93" fill="#1db8b3" stroke="#1db8b3" stroke-width="0.35" stroke-linejoin="round"/>
<polygon points="330.44,250.20 338.14,245.27 332.15,247.86 324.45,253.67" fill="#ccbd3f" stroke="#ccbd3f" stroke-width="0.35" stroke-linejoin="round"/>
<polygon points="219.18,293.29 226.88,286.31 220.89,289.92 213.19,299.76" fill="#1b96e8" stroke="#1b96e8" stroke-width="0.35" stroke-linejoin="round"/>
<polygon points="281.66,272.20 289.36,265.49 283.36,268.33 275.66,270.76" fill="#11afce" stroke="#11afce" stroke-width="0.35" stroke-linejoin="round"/>
<polygon points="344.14,244.54 351.84,242.72 345.84,243.13 338.14,245.27" fill="#e3b83a" stroke="#e3b83a" stroke-width="0.35" stroke-linejoin="round"/>
<polygon points="232.88,284.68 240.58,278.40 234.58,280.52 226.88,286.31" fill="#11add2" stroke="#11add2" stroke-width="0.35" stroke-linejoin="round"/>
<polygon points="295.35,266.09 303.05,263.33 297.06,262.52 289.36,265.49" fill="#1c94e9" stroke="#1c94e9" stroke-width="0.35" stroke-linejoin="round"/>
<polygon points="184.09,317.24 191.79,313.60 185.80,314.09 178.10,316.59" fill="#452fcb" stroke="#452fcb" stroke-width="0.35" stroke-linejoin="round"/>
<polygon points="357.83,241.80 365.53,239.61 359.54,240.89 351.84,242.72" fill="#fbca2a" stroke="#fbca2a" stroke-width="0.35" stroke-linejoin="round"/>
<polygon points="246.57,278.67 254.27,273.24 248.28,272.97 240.58,278.40" fill="#13b4c3" stroke="#13b4c3" stroke-width="0.35" stroke-linejoin="round"/>
<polygon points="309.05,264.87 316.75,259.96 310.75,262.79 303.05,263.33" fill="#85c468" stroke="#85c468" stroke-width="0.35" stroke-linejoin="round"/>
<polygon points="197.79,313.55 205.49,307.30 199.49,309.18 191.79,313.60" fill="#453dda" stroke="#453dda" stroke-width="0.35" stroke-linejoin="round"/>
<polygon points="371.52,238.09 379.22,235.74 373.23,237.60 365.53,239.61" fill="#f8e31f" stroke="#f8e31f" stroke-width="0.35" stroke-linejoin="round"/>
<polygon points="260.26,278.09 267.96,273.05 261.97,270.93 254.27,273.24" fill="#19b7b9" stroke="#19b7b9" stroke-width="0.35" stroke-linejoin="round"/>
<polygon points="322.74,256.79 330.44,250.20 324.45,253.67 316.75,259.96" fill="#e1b93b" stroke="#e1b93b" stroke-width="0.35" stroke-linejoin="round"/>
<polygon points="211.48,303.27 219.18,293.29 213.19,299.76 205.49,307.30" fill="#2d6fef" stroke="#2d6fef" stroke-width="0.35" stroke-linejoin="round"/>
<polygon points="273.96,278.84 281.66,272.20 275.66,270.76 267.96,273.05" fill="#1ab7b7" stroke="#1ab7b7" stroke-width="0.35" stroke-linejoin="round"/>
<polygon points="336.44,247.32 344.14,244.54 338.14,245.27 330.44,250.20" fill="#eab739" stroke="#eab739" stroke-width="0.35" stroke-linejoin="round"/>
<polygon points="225.18,290.43 232.88,284.68 226.88,286.31 219.18,293.29" fill="#15a5dd" stroke="#15a5dd" stroke-width="0.35" stroke-linejoin="round"/>
<polygon points="287.65,274.93 295.35,266.09 289.36,265.49 281.66,272.20" fill="#16a2e0" stroke="#16a2e0" stroke-width="0.35" stroke-linejoin="round"/>
<polygon points="176.39,320.36 184.09,317.24 178.10,316.59 170.40,318.60" fill="#422cc1" stroke="#422cc1" stroke-width="0.35" stroke-linejoin="round"/>
<polygon points="350.13,244.23 357.83,241.80 351.84,242.72 344.14,244.54" fill="#fabd31" stroke="#fabd31" stroke-width="0.35" stroke-linejoin="round"/>
<polygon points="238.87,284.33 246.57,278.67 240.58,278.40 232.88,284.68" fill="#11b0cc" stroke="#11b0cc" stroke-width="0.35" stroke-linejoin="round"/>
<polygon points="301.35,270.12 309.05,264.87 303.05,263.33 295.35,266.09" fill="#12b3c5" stroke="#12b3c5" stroke-width="0.35" stroke-linejoin="round"/>
<polygon points="190.09,318.81 197.79,313.55 191.79,313.60 184.09,317.24" fill="#4538d4" stroke="#4538d4" stroke-width="0.35" stroke-linejoin="round"/>
<polygon points="363.82,240.71 371.52,238.09 365.53,239.61 357.83,241.80" fill="#f9da23" stroke="#f9da23" stroke-width="0.35" stroke-linejoin="round"/>
<polygon points="252.56,281.53 260.26,278.09 254.27,273.24 246.57,278.67" fill="#14b4c2" stroke="#14b4c2" stroke-width="0.35" stroke-linejoin="round"/>
<polygon points="315.04,265.15 322.74,256.79 316.75,259.96 309.05,264.87" fill="#dbba3c" stroke="#dbba3c" stroke-width="0.35" stroke-linejoin="round"/>
<polygon points="203.78,311.74 211.48,303.27 205.49,307.30 197.79,313.55" fill="#4349e4" stroke="#4349e4" stroke-width="0.35" stroke-linejoin="round"/>
<polygon points="377.52,236.53 385.22,233.43 379.22,235.74 371.52,238.09" fill="#f8e81d" stroke="#f8e81d" stroke-width="0.35" stroke-linejoin="round"/>
<polygon points="266.26,284.44 273.96,278.84 267.96,273.05 260.26,278.09" fill="#18b6ba" stroke="#18b6ba" stroke-width="0.35" stroke-linejoin="round"/>
<polygon points="328.74,255.07 336.44,247.32 330.44,250.20 322.74,256.79" fill="#f1b737" stroke="#f1b737" stroke-width="0.35" stroke-linejoin="round"/>
<polygon points="217.48,297.10 225.18,290.43 219.18,293.29 211.48,303.27" fill="#1d91ea" stroke="#1d91ea" stroke-width="0.35" stroke-linejoin="round"/>
<polygon points="279.95,284.50 287.65,274.93 281.66,272.20 273.96,278.84" fill="#12b3c5" stroke="#12b3c5" stroke-width="0.35" stroke-linejoin="round"/>
<polygon points="342.43,247.80 350.13,244.23 344.14,244.54 336.44,247.32" fill="#f9ba33" stroke="#f9ba33" stroke-width="0.35" stroke-linejoin="round"/>
<polygon points="231.17,289.32 238.87,284.33 232.88,284.68 225.18,290.43" fill="#12aad8" stroke="#12aad8" stroke-width="0.35" stroke-linejoin="round"/>
<polygon points="293.65,278.39 301.35,270.12 295.35,266.09 287.65,274.93" fill="#16a3df" stroke="#16a3df" stroke-width="0.35" stroke-linejoin="round"/>
<polygon points="182.39,322.36 190.09,318.81 184.09,317.24 176.39,320.36" fill="#4632cf" stroke="#4632cf" stroke-width="0.35" stroke-linejoin="round"/>
<polygon points="356.12,243.95 363.82,240.71 357.83,241.80 350.13,244.23" fill="#fbd028" stroke="#fbd028" stroke-width="0.35" stroke-linejoin="round"/>
<polygon points="244.86,285.86 252.56,281.53 246.57,278.67 238.87,284.33" fill="#10b1ca" stroke="#10b1ca" stroke-width="0.35" stroke-linejoin="round"/>
<polygon points="307.34,272.19 315.04,265.15 309.05,264.87 301.35,270.12" fill="#81c46a" stroke="#81c46a" stroke-width="0.35" stroke-linejoin="round"/>
<polygon points="196.08,319.59 203.78,311.74 197.79,313.55 190.09,318.81" fill="#453eda" stroke="#453eda" stroke-width="0.35" stroke-linejoin="round"/>
<polygon points="369.82,239.55 377.52,236.53 371.52,238.09 363.82,240.71" fill="#f8e41f" stroke="#f8e41f" stroke-width="0.35" stroke-linejoin="round"/>
<polygon points="258.56,287.96 266.26,284.44 260.26,278.09 252.56,281.53" fill="#14b4c1" stroke="#14b4c1" stroke-width="0.35" stroke-linejoin="round"/>
<polygon points="321.04,263.27 328.74,255.07 322.74,256.79 315.04,265.15" fill="#e6b83a" stroke="#e6b83a" stroke-width="0.35" stroke-linejoin="round"/>
<polygon points="209.78,306.72 217.48,297.10 211.48,303.27 203.78,311.74" fill="#3168ee" stroke="#3168ee" stroke-width="0.35" stroke-linejoin="round"/>
<polygon points="383.51,234.80 391.21,232.30 385.22,233.43 377.52,236.53" fill="#f7eb1b" stroke="#f7eb1b" stroke-width="0.35" stroke-linejoin="round"/>
<polygon points="272.25,290.59 279.95,284.50 273.96,278.84 266.26,284.44" fill="#17b5bd" stroke="#17b5bd" stroke-width="0.35" stroke-linejoin="round"/>
<polygon points="334.73,254.12 342.43,247.80 336.44,247.32 328.74,255.07" fill="#f6b636" stroke="#f6b636" stroke-width="0.35" stroke-linejoin="round"/>
<polygon points="223.47,294.08 231.17,289.32 225.18,290.43 217.48,297.10" fill="#16a2e0" stroke="#16a2e0" stroke-width="0.35" stroke-linejoin="round"/>
<polygon points="285.95,288.33 293.65,278.39 287.65,274.93 279.95,284.50" fill="#11afce" stroke="#11afce" stroke-width="0.35" stroke-linejoin="round"/>
<polygon points="348.42,248.74 356.12,243.95 350.13,244.23 342.43,247.80" fill="#fcc32d" stroke="#fcc32d" stroke-width="0.35" stroke-linejoin="round"/>
<polygon points="237.16,289.61 244.86,285.86 238.87,284.33 231.17,289.32" fill="#11add2" stroke="#11add2" stroke-width="0.35" stroke-linejoin="round"/>
<polygon points="299.64,280.78 307.34,272.19 301.35,270.12 293.65,278.39" fill="#18b6ba" stroke="#18b6ba" stroke-width="0.35" stroke-linejoin="round"/>
<polygon points="188.38,324.36 196.08,319.59 190.09,318.81 182.39,322.36" fill="#4539d5" stroke="#4539d5" stroke-width="0.35" stroke-linejoin="round"/>
<polygon points="362.12,244.31 369.82,239.55 363.82,240.71 356.12,243.95" fill="#f9db23" stroke="#f9db23" stroke-width="0.35" stroke-linejoin="round"/>
<polygon points="250.86,289.06 258.56,287.96 252.56,281.53 244.86,285.86" fill="#10b1c9" stroke="#10b1c9" stroke-width="0.35" stroke-linejoin="round"/>
<polygon points="313.34,271.79 321.04,263.27 315.04,265.15 307.34,272.19" fill="#c1bf43" stroke="#c1bf43" stroke-width="0.35" stroke-linejoin="round"/>
<polygon points="202.08,317.94 209.78,306.72 203.78,311.74 196.08,319.59" fill="#4447e3" stroke="#4447e3" stroke-width="0.35" stroke-linejoin="round"/>
<polygon points="375.81,239.87 383.51,234.80 377.52,236.53 369.82,239.55" fill="#f8e71d" stroke="#f8e71d" stroke-width="0.35" stroke-linejoin="round"/>
<polygon points="264.55,295.32 272.25,290.59 266.26,284.44 258.56,287.96" fill="#13b4c3" stroke="#13b4c3" stroke-width="0.35" stroke-linejoin="round"/>
<polygon points="327.03,261.69 334.73,254.12 328.74,255.07 321.04,263.27" fill="#e5b83a" stroke="#e5b83a" stroke-width="0.35" stroke-linejoin="round"/>
<polygon points="215.77,300.92 223.47,294.08 217.48,297.10 209.78,306.72" fill="#1f8cec" stroke="#1f8cec" stroke-width="0.35" stroke-linejoin="round"/>
<polygon points="389.51,235.22 397.21,232.49 391.21,232.30 383.51,234.80" fill="#f7ed1a" stroke="#f7ed1a" stroke-width="0.35" stroke-linejoin="round"/>
<polygon points="278.25,296.42 285.95,288.33 279.95,284.50 272.25,290.59" fill="#14b4c1" stroke="#14b4c1" stroke-width="0.35" stroke-linejoin="round"/>
<polygon points="340.72,254.22 348.42,248.74 342.43,247.80 334.73,254.12" fill="#f8b636" stroke="#f8b636" stroke-width="0.35" stroke-linejoin="round"/>
<polygon points="229.46,293.78 237.16,289.61 231.17,289.32 223.47,294.08" fill="#14a7db" stroke="#14a7db" stroke-width="0.35" stroke-linejoin="round"/>
<polygon points="291.94,291.29 299.64,280.78 293.65,278.39 285.95,288.33" fill="#12b3c5" stroke="#12b3c5" stroke-width="0.35" stroke-linejoin="round"/>
<polygon points="354.42,249.22 362.12,244.31 356.12,243.95 348.42,248.74" fill="#fbcb29" stroke="#fbcb29" stroke-width="0.35" stroke-linejoin="round"/>
<polygon points="243.16,292.25 250.86,289.06 244.86,285.86 237.16,289.61" fill="#11aecf" stroke="#11aecf" stroke-width="0.35" stroke-linejoin="round"/>
<polygon points="305.64,280.92 313.34,271.79 307.34,272.19 299.64,280.78" fill="#71c374" stroke="#71c374" stroke-width="0.35" stroke-linejoin="round"/>
<polygon points="194.38,323.93 202.08,317.94 196.08,319.59 188.38,324.36" fill="#453eda" stroke="#453eda" stroke-width="0.35" stroke-linejoin="round"/>
<polygon points="368.11,244.72 375.81,239.87 369.82,239.55 362.12,244.31" fill="#f9df21" stroke="#f9df21" stroke-width="0.35" stroke-linejoin="round"/>
<polygon points="256.85,295.52 264.55,295.32 258.56,287.96 250.86,289.06" fill="#10b2c8" stroke="#10b2c8" stroke-width="0.35" stroke-linejoin="round"/>
<polygon points="319.33,269.79 327.03,261.69 321.04,263.27 313.34,271.79" fill="#cbbd3f" stroke="#cbbd3f" stroke-width="0.35" stroke-linejoin="round"/>
<polygon points="208.07,311.20 215.77,300.92 209.78,306.72 202.08,317.94" fill="#3464ee" stroke="#3464ee" stroke-width="0.35" stroke-linejoin="round"/>
<polygon points="381.81,241.98 389.51,235.22 383.51,234.80 375.81,239.87" fill="#f8e61e" stroke="#f8e61e" stroke-width="0.35" stroke-linejoin="round"/>
<polygon points="270.55,300.75 278.25,296.42 272.25,290.59 264.55,295.32" fill="#13b3c3" stroke="#13b3c3" stroke-width="0.35" stroke-linejoin="round"/>
<polygon points="333.02,261.08 340.72,254.22 334.73,254.12 327.03,261.69" fill="#e5b83a" stroke="#e5b83a" stroke-width="0.35" stroke-linejoin="round"/>
<polygon points="221.76,297.89 229.46,293.78 223.47,294.08 215.77,300.92" fill="#189fe3" stroke="#189fe3" stroke-width="0.35" stroke-linejoin="round"/>
<polygon points="395.50,239.90 403.20,234.39 397.21,232.49 389.51,235.22" fill="#f7eb1b" stroke="#f7eb1b" stroke-width="0.35" stroke-linejoin="round"/>
<polygon points="284.24,299.23 291.94,291.29 285.95,288.33 278.25,296.42" fill="#16b5be" stroke="#16b5be" stroke-width="0.35" stroke-linejoin="round"/>
<polygon points="346.72,254.62 354.42,249.22 348.42,248.74 340.72,254.22" fill="#f9ba33" stroke="#f9ba33" stroke-width="0.35" stroke-linejoin="round"/>
<polygon points="235.46,295.28 243.16,292.25 237.16,289.61 229.46,293.78" fill="#12aad8" stroke="#12aad8" stroke-width="0.35" stroke-linejoin="round"/>
<polygon points="297.94,291.36 305.64,280.92 299.64,280.78 291.94,291.29" fill="#2dbba6" stroke="#2dbba6" stroke-width="0.35" stroke-linejoin="round"/>
<polygon points="360.41,249.99 368.11,244.72 362.12,244.31 354.42,249.22" fill="#fbd028" stroke="#fbd028" stroke-width="0.35" stroke-linejoin="round"/>
<polygon points="249.15,295.67 256.85,295.52 250.86,289.06 243.16,292.25" fill="#10b0cc" stroke="#10b0cc" stroke-width="0.35" stroke-linejoin="round"/>
<polygon points="311.63,279.21 319.33,269.79 313.34,271.79 305.64,280.92" fill="#a4c253" stroke="#a4c253" stroke-width="0.35" stroke-linejoin="round"/>
<polygon points="200.37,321.82 208.07,311.20 202.08,317.94 194.38,323.93" fill="#4447e3" stroke="#4447e3" stroke-width="0.35" stroke-linejoin="round"/>
<polygon points="374.11,247.44 381.81,241.98 375.81,239.87 368.11,244.72" fill="#f9dc22" stroke="#f9dc22" stroke-width="0.35" stroke-linejoin="round"/>
<polygon points="262.85,301.61 270.55,300.75 264.55,295.32 256.85,295.52" fill="#12b3c4" stroke="#12b3c4" stroke-width="0.35" stroke-linejoin="round"/>
<polygon points="325.32,268.85 333.02,261.08 327.03,261.69 319.33,269.79" fill="#cabd3f" stroke="#cabd3f" stroke-width="0.35" stroke-linejoin="round"/>
<polygon points="214.06,304.87 221.76,297.89 215.77,300.92 208.07,311.20" fill="#2186ee" stroke="#2186ee" stroke-width="0.35" stroke-linejoin="round"/>
<polygon points="387.80,243.53 395.50,239.90 389.51,235.22 381.81,241.98" fill="#f8e220" stroke="#f8e220" stroke-width="0.35" stroke-linejoin="round"/>
<polygon points="276.54,303.98 284.24,299.23 278.25,296.42 270.55,300.75" fill="#16b5bf" stroke="#16b5bf" stroke-width="0.35" stroke-linejoin="round"/>
<polygon points="339.02,261.13 346.72,254.62 340.72,254.22 333.02,261.08" fill="#e7b839" stroke="#e7b839" stroke-width="0.35" stroke-linejoin="round"/>
<polygon points="227.76,298.33 235.46,295.28 229.46,293.78 221.76,297.89" fill="#15a4de" stroke="#15a4de" stroke-width="0.35" stroke-linejoin="round"/>
<polygon points="290.24,299.40 297.94,291.36 291.94,291.29 284.24,299.23" fill="#1fb9b1" stroke="#1fb9b1" stroke-width="0.35" stroke-linejoin="round"/>
<polygon points="352.71,255.13 360.41,249.99 354.42,249.22 346.72,254.62" fill="#fabe30" stroke="#fabe30" stroke-width="0.35" stroke-linejoin="round"/>
<polygon points="241.45,298.25 249.15,295.67 243.16,292.25 235.46,295.28" fill="#11add1" stroke="#11add1" stroke-width="0.35" stroke-linejoin="round"/>
<polygon points="303.93,290.21 311.63,279.21 305.64,280.92 297.94,291.36" fill="#64c27d" stroke="#64c27d" stroke-width="0.35" stroke-linejoin="round"/>
<polygon points="366.41,251.85 374.11,247.44 368.11,244.72 360.41,249.99" fill="#fad027" stroke="#fad027" stroke-width="0.35" stroke-linejoin="round"/>
<polygon points="255.15,300.79 262.85,301.61 256.85,295.52 249.15,295.67" fill="#12b3c4" stroke="#12b3c4" stroke-width="0.35" stroke-linejoin="round"/>
<polygon points="317.62,277.98 325.32,268.85 319.33,269.79 311.63,279.21" fill="#adc14d" stroke="#adc14d" stroke-width="0.35" stroke-linejoin="round"/>
<polygon points="206.36,314.72 214.06,304.87 208.07,311.20 200.37,321.82" fill="#375fec" stroke="#375fec" stroke-width="0.35" stroke-linejoin="round"/>
<polygon points="380.10,246.96 387.80,243.53 381.81,241.98 374.11,247.44" fill="#f9d924" stroke="#f9d924" stroke-width="0.35" stroke-linejoin="round"/>
<polygon points="268.84,308.11 276.54,303.98 270.55,300.75 262.85,301.61" fill="#16b5be" stroke="#16b5be" stroke-width="0.35" stroke-linejoin="round"/>
<polygon points="331.32,268.72 339.02,261.13 333.02,261.08 325.32,268.85" fill="#c9bd3f" stroke="#c9bd3f" stroke-width="0.35" stroke-linejoin="round"/>
<polygon points="220.06,300.98 227.76,298.33 221.76,297.89 214.06,304.87" fill="#199be5" stroke="#199be5" stroke-width="0.35" stroke-linejoin="round"/>
<polygon points="282.54,306.04 290.24,299.40 284.24,299.23 276.54,303.98" fill="#1ab7b7" stroke="#1ab7b7" stroke-width="0.35" stroke-linejoin="round"/>
<polygon points="345.01,261.23 352.71,255.13 346.72,254.62 339.02,261.13" fill="#eab739" stroke="#eab739" stroke-width="0.35" stroke-linejoin="round"/>
<polygon points="233.75,300.63 241.45,298.25 235.46,295.28 227.76,298.33" fill="#14a7db" stroke="#14a7db" stroke-width="0.35" stroke-linejoin="round"/>
<polygon points="296.23,299.76 303.93,290.21 297.94,291.36 290.24,299.40" fill="#30bca3" stroke="#30bca3" stroke-width="0.35" stroke-linejoin="round"/>
<polygon points="358.71,255.11 366.41,251.85 360.41,249.99 352.71,255.13" fill="#fcc22d" stroke="#fcc22d" stroke-width="0.35" stroke-linejoin="round"/>
<polygon points="247.45,301.96 255.15,300.79 249.15,295.67 241.45,298.25" fill="#10b1c9" stroke="#10b1c9" stroke-width="0.35" stroke-linejoin="round"/>
<polygon points="309.92,287.71 317.62,277.98 311.63,279.21 303.93,290.21" fill="#83c469" stroke="#83c469" stroke-width="0.35" stroke-linejoin="round"/>
<polygon points="372.40,249.65 380.10,246.96 374.11,247.44 366.41,251.85" fill="#fad027" stroke="#fad027" stroke-width="0.35" stroke-linejoin="round"/>
<polygon points="261.14,306.72 268.84,308.11 262.85,301.61 255.15,300.79" fill="#17b6bc" stroke="#17b6bc" stroke-width="0.35" stroke-linejoin="round"/>
<polygon points="323.62,277.10 331.32,268.72 325.32,268.85 317.62,277.98" fill="#abc24e" stroke="#abc24e" stroke-width="0.35" stroke-linejoin="round"/>
<polygon points="212.36,307.43 220.06,300.98 214.06,304.87 206.36,314.72" fill="#247fef" stroke="#247fef" stroke-width="0.35" stroke-linejoin="round"/>
<polygon points="274.84,311.33 282.54,306.04 276.54,303.98 268.84,308.11" fill="#1ab7b8" stroke="#1ab7b8" stroke-width="0.35" stroke-linejoin="round"/>
<polygon points="337.31,268.54 345.01,261.23 339.02,261.13 331.32,268.72" fill="#c8be40" stroke="#c8be40" stroke-width="0.35" stroke-linejoin="round"/>
<polygon points="226.05,301.89 233.75,300.63 227.76,298.33 220.06,300.98" fill="#16a1e1" stroke="#16a1e1" stroke-width="0.35" stroke-linejoin="round"/>
<polygon points="288.53,306.50 296.23,299.76 290.24,299.40 282.54,306.04" fill="#22b9af" stroke="#22b9af" stroke-width="0.35" stroke-linejoin="round"/>
<polygon points="351.01,259.37 358.71,255.11 352.71,255.13 345.01,261.23" fill="#f2b737" stroke="#f2b737" stroke-width="0.35" stroke-linejoin="round"/>
<polygon points="239.75,303.47 247.45,301.96 241.45,298.25 233.75,300.63" fill="#11acd4" stroke="#11acd4" stroke-width="0.35" stroke-linejoin="round"/>
<polygon points="302.22,299.65 309.92,287.71 303.93,290.21 296.23,299.76" fill="#4cc08e" stroke="#4cc08e" stroke-width="0.35" stroke-linejoin="round"/>
<polygon points="364.70,252.51 372.40,249.65 366.41,251.85 358.71,255.11" fill="#fcc82b" stroke="#fcc82b" stroke-width="0.35" stroke-linejoin="round"/>
<polygon points="253.44,305.92 261.14,306.72 255.15,300.79 247.45,301.96" fill="#16b5be" stroke="#16b5be" stroke-width="0.35" stroke-linejoin="round"/>
<polygon points="315.92,286.41 323.62,277.10 317.62,277.98 309.92,287.71" fill="#8ac464" stroke="#8ac464" stroke-width="0.35" stroke-linejoin="round"/>
<polygon points="267.14,313.97 274.84,311.33 268.84,308.11 261.14,306.72" fill="#1bb8b5" stroke="#1bb8b5" stroke-width="0.35" stroke-linejoin="round"/>
<polygon points="329.61,276.86 337.31,268.54 331.32,268.72 323.62,277.10" fill="#a7c251" stroke="#a7c251" stroke-width="0.35" stroke-linejoin="round"/>
<polygon points="218.35,301.89 226.05,301.89 220.06,300.98 212.36,307.43" fill="#1a98e7" stroke="#1a98e7" stroke-width="0.35" stroke-linejoin="round"/>
<polygon points="280.83,312.23 288.53,306.50 282.54,306.04 274.84,311.33" fill="#1fb9b2" stroke="#1fb9b2" stroke-width="0.35" stroke-linejoin="round"/>
<polygon points="343.31,264.84 351.01,259.37 345.01,261.23 337.31,268.54" fill="#d2bc3e" stroke="#d2bc3e" stroke-width="0.35" stroke-linejoin="round"/>
<polygon points="232.05,302.51 239.75,303.47 233.75,300.63 226.05,301.89" fill="#15a3df" stroke="#15a3df" stroke-width="0.35" stroke-linejoin="round"/>
<polygon points="294.52,306.82 302.22,299.65 296.23,299.76 288.53,306.50" fill="#2dbba6" stroke="#2dbba6" stroke-width="0.35" stroke-linejoin="round"/>
<polygon points="245.74,304.26 253.44,305.92 247.45,301.96 239.75,303.47" fill="#10b2c9" stroke="#10b2c9" stroke-width="0.35" stroke-linejoin="round"/>
<polygon points="308.22,295.83 315.92,286.41 309.92,287.71 302.22,299.65" fill="#61c27f" stroke="#61c27f" stroke-width="0.35" stroke-linejoin="round"/>
<polygon points="259.44,308.25 267.14,313.97 261.14,306.72 253.44,305.92" fill="#1bb8b6" stroke="#1bb8b6" stroke-width="0.35" stroke-linejoin="round"/>
<polygon points="321.91,284.28 329.61,276.86 323.62,277.10 315.92,286.41" fill="#88c466" stroke="#88c466" stroke-width="0.35" stroke-linejoin="round"/>
<polygon points="273.13,314.63 280.83,312.23 274.84,311.33 267.14,313.97" fill="#20b9b1" stroke="#20b9b1" stroke-width="0.35" stroke-linejoin="round"/>
<polygon points="335.61,271.32 343.31,264.84 337.31,268.54 329.61,276.86" fill="#afc14c" stroke="#afc14c" stroke-width="0.35" stroke-linejoin="round"/>
<polygon points="286.82,309.76 294.52,306.82 288.53,306.50 280.83,312.23" fill="#24baad" stroke="#24baad" stroke-width="0.35" stroke-linejoin="round"/>
<polygon points="300.52,304.18 308.22,295.83 302.22,299.65 294.52,306.82" fill="#3cbe9a" stroke="#3cbe9a" stroke-width="0.35" stroke-linejoin="round"/>
<polygon points="314.21,290.55 321.91,284.28 315.92,286.41 308.22,295.83" fill="#6bc378" stroke="#6bc378" stroke-width="0.35" stroke-linejoin="round"/>
<polygon points="327.91,278.48 335.61,271.32 329.61,276.86 321.91,284.28" fill="#90c360" stroke="#90c360" stroke-width="0.35" stroke-linejoin="round"/>
<path d="M212.36 307.43L220.06 300.98M206.36 314.72L214.06 304.87M200.37 321.82L208.07 311.20M194.38 323.93L202.08 317.94M188.38 324.36L196.08 319.59M182.39 322.36L190.09 318.81M176.39 320.36L184.09 317.24M226.05 301.89L233.75 300.63M226.05 301.89L220.06 300.98M220.06 300.98L227.76 298.33M220.06 300.98L214.06 304.87M214.06 304.87L221.76 297.89M214.06 304.87L208.07 311.20M208.07 311.20L215.77 300.92M208.07 311.20L202.08 317.94M202.08 317.94L209.78 306.72M202.08 317.94L196.08 319.59M196.08 319.59L203.78 311.74M196.08 319.59L190.09 318.81M190.09 318.81L197.79 313.55M190.09 318.81L184.09 317.24M184.09 317.24L191.79 313.60M184.09 317.24L178.10 316.59M239.75 303.47L247.45 301.96M239.75 303.47L233.75 300.63M233.75 300.63L241.45 298.25M233.75 300.63L227.76 298.33M227.76 298.33L235.46 295.28M227.76 298.33L221.76 297.89M221.76 297.89L229.46 293.78M221.76 297.89L215.77 300.92M215.77 300.92L223.47 294.08M215.77 300.92L209.78 306.72M209.78 306.72L217.48 297.10M209.78 306.72L203.78 311.74M203.78 311.74L211.48 303.27M203.78 311.74L197.79 313.55M197.79 313.55L205.49 307.30M197.79 313.55L191.79 313.60M191.79 313.60L199.49 309.18M191.79 313.60L185.80 314.09M253.44 305.92L261.14 306.72M253.44 305.92L247.45 301.96M247.45 301.96L255.15 300.79M247.45 301.96L241.45 298.25M241.45 298.25L249.15 295.67M241.45 298.25L235.46 295.28M235.46 295.28L243.16 292.25M235.46 295.28L229.46 293.78M229.46 293.78L237.16 289.61M229.46 293.78L223.47 294.08M223.47 294.08L231.17 289.32M223.47 294.08L217.48 297.10M217.48 297.10L225.18 290.43M217.48 297.10L211.48 303.27M211.48 303.27L219.18 293.29M211.48 303.27L205.49 307.30M205.49 307.30L213.19 299.76M205.49 307.30L199.49 309.18M199.49 309.18L207.19 304.33M199.49 309.18L193.50 310.92M267.14 313.97L274.84 311.33M267.14 313.97L261.14 306.72M261.14 306.72L268.84 308.11M261.14 306.72L255.15 300.79M255.15 300.79L262.85 301.61M255.15 300.79L249.15 295.67M249.15 295.67L256.85 295.52M249.15 295.67L243.16 292.25M243.16 292.25L250.86 289.06M243.16 292.25L237.16 289.61M237.16 289.61L244.86 285.86M237.16 289.61L231.17 289.32M231.17 289.32L238.87 284.33M231.17 289.32L225.18 290.43M225.18 290.43L232.88 284.68M225.18 290.43L219.18 293.29M219.18 293.29L226.88 286.31M219.18 293.29L213.19 299.76M213.19 299.76L220.89 289.92M213.19 299.76L207.19 304.33M207.19 304.33L214.89 296.17M207.19 304.33L201.20 306.86M280.83 312.23L288.53 306.50M280.83 312.23L274.84 311.33M274.84 311.33L282.54 306.04M274.84 311.33L268.84 308.11M268.84 308.11L276.54 303.98M268.84 308.11L262.85 301.61M262.85 301.61L270.55 300.75M262.85 301.61L256.85 295.52M256.85 295.52L264.55 295.32M256.85 295.52L250.86 289.06M250.86 289.06L258.56 287.96M250.86 289.06L244.86 285.86M244.86 285.86L252.56 281.53M244.86 285.86L238.87 284.33M238.87 284.33L246.57 278.67M238.87 284.33L232.88 284.68M232.88 284.68L240.58 278.40M232.88 284.68L226.88 286.31M226.88 286.31L234.58 280.52M226.88 286.31L220.89 289.92M220.89 289.92L228.59 283.44M220.89 289.92L214.89 296.17M214.89 296.17L222.59 286.94M214.89 296.17L208.90 302.35M294.52 306.82L302.22 299.65M294.52 306.82L288.53 306.50M288.53 306.50L296.23 299.76M288.53 306.50L282.54 306.04M282.54 306.04L290.24 299.40M282.54 306.04L276.54 303.98M276.54 303.98L284.24 299.23M276.54 303.98L270.55 300.75M270.55 300.75L278.25 296.42M270.55 300.75L264.55 295.32M264.55 295.32L272.25 290.59M264.55 295.32L258.56 287.96M258.56 287.96L266.26 284.44M258.56 287.96L252.56 281.53M252.56 281.53L260.26 278.09M252.56 281.53L246.57 278.67M246.57 278.67L254.27 273.24M246.57 278.67L240.58 278.40M240.58 278.40L248.28 272.97M240.58 278.40L234.58 280.52M234.58 280.52L242.28 275.35M234.58 280.52L228.59 283.44M228.59 283.44L236.29 277.96M228.59 283.44L222.59 286.94M222.59 286.94L230.29 280.62M222.59 286.94L216.60 293.23M308.22 295.83L315.92 286.41M308.22 295.83L302.22 299.65M302.22 299.65L309.92 287.71M302.22 299.65L296.23 299.76M296.23 299.76L303.93 290.21M296.23 299.76L290.24 299.40M290.24 299.40L297.94 291.36M290.24 299.40L284.24 299.23M284.24 299.23L291.94 291.29M284.24 299.23L278.25 296.42M278.25 296.42L285.95 288.33M278.25 296.42L272.25 290.59M272.25 290.59L279.95 284.50M272.25 290.59L266.26 284.44M266.26 284.44L273.96 278.84M266.26 284.44L260.26 278.09M260.26 278.09L267.96 273.05M260.26 278.09L254.27 273.24M254.27 273.24L261.97 270.93M254.27 273.24L248.28 272.97M248.28 272.97L255.98 270.47M248.28 272.97L242.28 275.35M242.28 275.35L249.98 270.89M242.28 275.35L236.29 277.96M236.29 277.96L243.99 272.80M236.29 277.96L230.29 280.62M230.29 280.62L237.99 275.60M230.29 280.62L224.30 284.96M321.91 284.28L329.61 276.86M321.91 284.28L315.92 286.41M315.92 286.41L323.62 277.10M315.92 286.41L309.92 287.71M309.92 287.71L317.62 277.98M309.92 287.71L303.93 290.21M303.93 290.21L311.63 279.21M303.93 290.21L297.94 291.36M297.94 291.36L305.64 280.92M297.94 291.36L291.94 291.29M291.94 291.29L299.64 280.78M291.94 291.29L285.95 288.33M285.95 288.33L293.65 278.39M285.95 288.33L279.95 284.50M279.95 284.50L287.65 274.93M279.95 284.50L273.96 278.84M273.96 278.84L281.66 272.20M273.96 278.84L267.96 273.05M267.96 273.05L275.66 270.76M267.96 273.05L261.97 270.93M261.97 270.93L269.67 270.16M261.97 270.93L255.98 270.47M255.98 270.47L263.68 269.39M255.98 270.47L249.98 270.89M249.98 270.89L257.68 268.73M249.98 270.89L243.99 272.80M243.99 272.80L251.69 269.12M243.99 272.80L237.99 275.60M335.61 271.32L329.61 276.86M329.61 276.86L337.31 268.54M329.61 276.86L323.62 277.10M323.62 277.10L331.32 268.72M323.62 277.10L317.62 277.98M317.62 277.98L325.32 268.85M317.62 277.98L311.63 279.21M311.63 279.21L319.33 269.79M311.63 279.21L305.64 280.92M305.64 280.92L313.34 271.79M305.64 280.92L299.64 280.78M299.64 280.78L307.34 272.19M299.64 280.78L293.65 278.39M293.65 278.39L301.35 270.12M293.65 278.39L287.65 274.93M287.65 274.93L295.35 266.09M287.65 274.93L281.66 272.20M281.66 272.20L289.36 265.49M281.66 272.20L275.66 270.76M275.66 270.76L283.36 268.33M275.66 270.76L269.67 270.16M269.67 270.16L277.37 269.11M269.67 270.16L263.68 269.39M263.68 269.39L271.38 268.61M263.68 269.39L257.68 268.73M257.68 268.73L265.38 268.00M257.68 268.73L251.69 269.12M343.31 264.84L337.31 268.54M337.31 268.54L345.01 261.23M337.31 268.54L331.32 268.72M331.32 268.72L339.02 261.13M331.32 268.72L325.32 268.85M325.32 268.85L333.02 261.08M325.32 268.85L319.33 269.79M319.33 269.79L327.03 261.69M319.33 269.79L313.34 271.79M313.34 271.79L321.04 263.27M313.34 271.79L307.34 272.19M307.34 272.19L315.04 265.15M307.34 272.19L301.35 270.12M301.35 270.12L309.05 264.87M301.35 270.12L295.35 266.09M295.35 266.09L303.05 263.33M295.35 266.09L289.36 265.49M289.36 265.49L297.06 262.52M289.36 265.49L283.36 268.33M283.36 268.33L291.06 262.97M283.36 268.33L277.37 269.11M277.37 269.11L285.07 265.41M277.37 269.11L271.38 268.61M271.38 268.61L279.08 267.58M271.38 268.61L265.38 268.00M351.01 259.37L345.01 261.23M345.01 261.23L352.71 255.13M345.01 261.23L339.02 261.13M339.02 261.13L346.72 254.62M339.02 261.13L333.02 261.08M333.02 261.08L340.72 254.22M333.02 261.08L327.03 261.69M327.03 261.69L334.73 254.12M327.03 261.69L321.04 263.27M321.04 263.27L328.74 255.07M321.04 263.27L315.04 265.15M315.04 265.15L322.74 256.79M315.04 265.15L309.05 264.87M309.05 264.87L316.75 259.96M309.05 264.87L303.05 263.33M303.05 263.33L310.75 262.79M303.05 263.33L297.06 262.52M297.06 262.52L304.76 261.71M297.06 262.52L291.06 262.97M291.06 262.97L298.76 260.34M291.06 262.97L285.07 265.41M285.07 265.41L292.77 260.69M285.07 265.41L279.08 267.58M358.71 255.11L366.41 251.85M358.71 255.11L352.71 255.13M352.71 255.13L360.41 249.99M352.71 255.13L346.72 254.62M346.72 254.62L354.42 249.22M346.72 254.62L340.72 254.22M340.72 254.22L348.42 248.74M340.72 254.22L334.73 254.12M334.73 254.12L342.43 247.80M334.73 254.12L328.74 255.07M328.74 255.07L336.44 247.32M328.74 255.07L322.74 256.79M322.74 256.79L330.44 250.20M322.74 256.79L316.75 259.96M316.75 259.96L324.45 253.67M316.75 259.96L310.75 262.79M310.75 262.79L318.45 257.29M310.75 262.79L304.76 261.71M304.76 261.71L312.46 260.91M304.76 261.71L298.76 260.34M298.76 260.34L306.46 260.57M298.76 260.34L292.77 260.69M372.40 249.65L366.41 251.85M366.41 251.85L374.11 247.44M366.41 251.85L360.41 249.99M360.41 249.99L368.11 244.72M360.41 249.99L354.42 249.22M354.42 249.22L362.12 244.31M354.42 249.22L348.42 248.74M348.42 248.74L356.12 243.95M348.42 248.74L342.43 247.80M342.43 247.80L350.13 244.23M342.43 247.80L336.44 247.32M336.44 247.32L344.14 244.54M336.44 247.32L330.44 250.20M330.44 250.20L338.14 245.27M330.44 250.20L324.45 253.67M324.45 253.67L332.15 247.86M324.45 253.67L318.45 257.29M318.45 257.29L326.15 251.06M318.45 257.29L312.46 260.91M312.46 260.91L320.16 254.90M312.46 260.91L306.46 260.57M380.10 246.96L374.11 247.44M374.11 247.44L381.81 241.98M374.11 247.44L368.11 244.72M368.11 244.72L375.81 239.87M368.11 244.72L362.12 244.31M362.12 244.31L369.82 239.55M362.12 244.31L356.12 243.95M356.12 243.95L363.82 240.71M356.12 243.95L350.13 244.23M350.13 244.23L357.83 241.80M350.13 244.23L344.14 244.54M344.14 244.54L351.84 242.72M344.14 244.54L338.14 245.27M338.14 245.27L345.84 243.13M338.14 245.27L332.15 247.86M332.15 247.86L339.85 243.53M332.15 247.86L326.15 251.06M326.15 251.06L333.85 245.86M326.15 251.06L320.16 254.90M387.80 243.53L381.81 241.98M381.81 241.98L389.51 235.22M381.81 241.98L375.81 239.87M375.81 239.87L383.51 234.80M375.81 239.87L369.82 239.55M369.82 239.55L377.52 236.53M369.82 239.55L363.82 240.71M363.82 240.71L371.52 238.09M363.82 240.71L357.83 241.80M357.83 241.80L365.53 239.61M357.83 241.80L351.84 242.72M351.84 242.72L359.54 240.89M351.84 242.72L345.84 243.13M345.84 243.13L353.54 241.98M345.84 243.13L339.85 243.53M339.85 243.53L347.55 242.75M339.85 243.53L333.85 245.86M395.50 239.90L389.51 235.22M389.51 235.22L397.21 232.49M389.51 235.22L383.51 234.80M383.51 234.80L391.21 232.30M383.51 234.80L377.52 236.53M377.52 236.53L385.22 233.43M377.52 236.53L371.52 238.09M371.52 238.09L379.22 235.74M371.52 238.09L365.53 239.61" fill="none" stroke="#1a1a1a" stroke-width="0.45" stroke-opacity="0.8" stroke-linecap="round"/>
<path d="M171.00 318.60 L172.95 318.08 L174.91 317.53 L176.86 316.96 L178.81 316.37 L180.76 315.76 L182.72 315.13 L184.67 314.48 L186.62 313.80 L188.58 313.07 L190.53 312.28 L192.48 311.40 L194.44 310.45 L196.39 309.45 L198.34 308.40 L200.29 307.34 L202.25 306.31 L204.20 305.27 L206.15 304.16 L208.11 302.91 L210.06 301.45 L212.01 299.47 L213.96 296.95 L215.92 294.20 L217.87 291.50 L219.82 289.18 L221.78 287.26 L223.73 285.46 L225.68 283.79 L227.64 282.24 L229.59 280.79 L231.54 279.45 L233.49 278.21 L235.45 277.04 L237.40 275.93 L239.35 274.85 L241.31 273.76 L243.26 272.61 L245.21 271.49 L247.16 270.50 L249.12 269.74 L251.07 269.26 L253.02 268.83 L254.98 268.47 L256.93 268.19 L258.88 268.03 L260.84 268.00 L262.79 268.00 L264.74 268.00 L266.69 268.00 L268.65 268.00 L270.60 268.00 L272.55 267.96 L274.51 267.89 L276.46 267.78 L278.41 267.64 L280.36 267.45 L282.32 266.68 L284.27 265.34 L286.22 263.78 L288.18 262.37 L290.13 261.46 L292.08 260.88 L294.04 260.36 L295.99 259.92 L297.94 259.62 L299.89 259.50 L301.85 259.63 L303.80 259.99 L305.75 260.42 L307.71 260.80 L309.66 260.99 L311.61 260.72 L313.56 259.78 L315.52 258.42 L317.47 256.87 L319.42 255.39 L321.38 254.07 L323.33 252.64 L325.28 251.17 L327.24 249.74 L329.19 248.47 L331.14 247.37 L333.09 246.27 L335.05 245.25 L337.00 244.37 L338.95 243.72 L340.91 243.36 L342.86 243.14 L344.81 242.97 L346.76 242.82 L348.72 242.64 L350.67 242.41 L352.62 242.13 L354.58 241.81 L356.53 241.46 L358.48 241.09 L360.44 240.71 L362.39 240.31 L364.34 239.88 L366.29 239.43 L368.25 238.95 L370.20 238.45 L372.15 237.91 L374.11 237.33 L376.06 236.73 L378.01 236.12 L379.96 235.51 L381.92 234.80 L383.87 233.98 L385.82 233.19 L387.78 232.59 L389.73 232.30 L391.68 232.30 L393.64 232.32 L395.59 232.39 L397.54 232.51 L399.49 232.73 L401.45 233.05 L403.40 233.50" fill="none" stroke="#1a1a1a" stroke-width="0.5" stroke-opacity="0.8"/>
<path d="M171.00 318.60 L172.95 319.25 L174.91 319.88 L176.86 320.51 L178.81 321.13 L180.76 321.75 L182.72 322.49 L184.67 323.26 L186.62 323.94 L188.58 324.39 L190.53 324.49 L192.48 324.31 L194.44 323.91 L196.39 323.35 L198.34 322.66 L200.29 321.86 L202.25 320.29 L204.20 317.86 L206.15 315.03 L208.11 312.25 L210.06 309.94 L212.01 307.83 L213.96 305.61 L215.92 303.61 L217.87 302.14 L219.82 301.50 L221.78 301.54 L223.73 301.67 L225.68 301.85 L227.64 302.05 L229.59 302.26 L231.54 302.46 L233.49 302.67 L235.45 302.91 L237.40 303.16 L239.35 303.41 L241.31 303.67 L243.26 303.92 L245.21 304.18 L247.16 304.48 L249.12 304.82 L251.07 305.24 L253.02 305.79 L254.98 306.44 L256.93 307.18 L258.88 308.00 L260.84 308.95 L262.79 310.39 L264.74 312.09 L266.69 313.67 L268.65 314.75 L270.60 314.98 L272.55 314.75 L274.51 314.28 L276.46 313.68 L278.41 313.02 L280.36 312.38 L282.32 311.68 L284.27 310.88 L286.22 310.02 L288.18 309.16 L290.13 308.35 L292.08 307.64 L294.04 306.99 L295.99 306.31 L297.94 305.53 L299.89 304.56 L301.85 303.11 L303.80 301.09 L305.75 298.76 L307.71 296.41 L309.66 294.32 L311.61 292.60 L313.56 291.04 L315.52 289.56 L317.47 288.07 L319.42 286.49 L321.38 284.77 L323.33 282.94 L325.28 281.04 L327.24 279.13 L329.19 277.26 L331.14 275.44 L333.09 273.63 L335.05 271.82 L337.00 270.06 L338.95 268.37 L340.91 266.76 L342.86 265.19 L344.81 263.66 L346.76 262.21 L348.72 260.84 L350.67 259.58 L352.62 258.39 L354.58 257.27 L356.53 256.21 L358.48 255.22 L360.44 254.30 L362.39 253.45 L364.34 252.65 L366.29 251.89 L368.25 251.15 L370.20 250.43 L372.15 249.73 L374.11 249.07 L376.06 248.42 L378.01 247.74 L379.96 247.01 L381.92 246.21 L383.87 245.35 L385.82 244.46 L387.78 243.54 L389.73 242.63 L391.68 241.71 L393.64 240.79 L395.59 239.85 L397.54 238.91 L399.49 237.95 L401.45 236.98 L403.40 236.00" fill="none" stroke="#1a1a1a" stroke-width="0.5" stroke-opacity="0.8"/>
<line x1="170.40" y1="318.50" x2="170.40" y2="222.80" stroke="#878787" stroke-width="0.7"/>
<line x1="170.40" y1="318.50" x2="272.30" y2="361.80" stroke="#878787" stroke-width="0.7"/>
<line x1="272.30" y1="361.80" x2="403.20" y2="329.60" stroke="#878787" stroke-width="0.7"/>
<line x1="170.40" y1="298.55" x2="168.20" y2="298.55" stroke="#878787" stroke-width="0.6"/>
<line x1="170.40" y1="273.30" x2="168.20" y2="273.30" stroke="#878787" stroke-width="0.6"/>
<line x1="170.40" y1="248.05" x2="168.20" y2="248.05" stroke="#878787" stroke-width="0.6"/>
<line x1="170.40" y1="222.80" x2="168.20" y2="222.80" stroke="#878787" stroke-width="0.6"/>
<line x1="272.30" y1="361.80" x2="275.06" y2="362.97" stroke="#878787" stroke-width="0.6"/>
<line x1="292.44" y1="356.85" x2="295.20" y2="358.02" stroke="#878787" stroke-width="0.6"/>
<line x1="312.58" y1="351.89" x2="315.34" y2="353.07" stroke="#878787" stroke-width="0.6"/>
<line x1="332.72" y1="346.94" x2="335.48" y2="348.11" stroke="#878787" stroke-width="0.6"/>
<line x1="352.85" y1="341.98" x2="355.61" y2="343.16" stroke="#878787" stroke-width="0.6"/>
<line x1="372.99" y1="337.03" x2="375.75" y2="338.20" stroke="#878787" stroke-width="0.6"/>
<line x1="393.13" y1="332.08" x2="395.89" y2="333.25" stroke="#878787" stroke-width="0.6"/>
<line x1="257.74" y1="355.61" x2="254.83" y2="356.33" stroke="#878787" stroke-width="0.6"/>
<line x1="228.63" y1="343.24" x2="225.72" y2="343.96" stroke="#878787" stroke-width="0.6"/>
<line x1="199.51" y1="330.87" x2="196.60" y2="331.59" stroke="#878787" stroke-width="0.6"/>
<line x1="170.40" y1="318.50" x2="167.49" y2="319.22" stroke="#878787" stroke-width="0.6"/>
<text x="193.40" y="200.20" class="tg" font-size="10" font-weight="bold" fill="#e0202a" text-anchor="middle" dominant-baseline="central" textLength="10" lengthAdjust="spacingAndGlyphs">[c]</text>
<text transform="translate(150.20,268.40) rotate(-90)" font-size="7.4" text-anchor="middle" dominant-baseline="central">Power density W/m2</text>
<text x="166.20" y="298.80" font-size="6.9" text-anchor="end" dominant-baseline="central">400</text>
<text x="166.20" y="274.60" font-size="6.9" text-anchor="end" dominant-baseline="central">500</text>
<text x="166.20" y="249.50" font-size="6.9" text-anchor="end" dominant-baseline="central">600</text>
<text x="166.20" y="223.80" font-size="6.9" text-anchor="end" dominant-baseline="central">700</text>
<text x="163.70" y="325.20" font-size="6.9" text-anchor="middle" dominant-baseline="central">1</text>
<text x="188.50" y="337.00" font-size="6.9" text-anchor="middle" dominant-baseline="central">0.8</text>
<text x="216.70" y="349.50" font-size="6.9" text-anchor="middle" dominant-baseline="central">0.6</text>
<text x="245.00" y="360.80" font-size="6.9" text-anchor="middle" dominant-baseline="central">0.4</text>
<text x="280.50" y="369.40" font-size="6.9" text-anchor="middle" dominant-baseline="central">0.3</text>
<text x="299.50" y="364.50" font-size="6.9" text-anchor="middle" dominant-baseline="central">0.4</text>
<text x="317.80" y="359.60" font-size="6.9" text-anchor="middle" dominant-baseline="central">0.5</text>
<text x="336.90" y="355.00" font-size="6.9" text-anchor="middle" dominant-baseline="central">0.6</text>
<text x="355.40" y="350.40" font-size="6.9" text-anchor="middle" dominant-baseline="central">0.7</text>
<text x="374.50" y="345.50" font-size="6.9" text-anchor="middle" dominant-baseline="central">0.8</text>
<text x="393.60" y="341.40" font-size="6.9" text-anchor="middle" dominant-baseline="central">0.9</text>
<text x="197.90" y="362.00" font-size="7.4" text-anchor="middle" dominant-baseline="central">Normalized membrane</text>
<text x="189.80" y="371.00" font-size="7.4" text-anchor="middle" dominant-baseline="central">compression</text>
<text x="354.00" y="370.80" font-size="7.4" text-anchor="middle" dominant-baseline="central">Normalized relative</text>
<text x="355.40" y="378.70" font-size="7.4" text-anchor="middle" dominant-baseline="central">humidity</text>
</svg>
</body></html>
